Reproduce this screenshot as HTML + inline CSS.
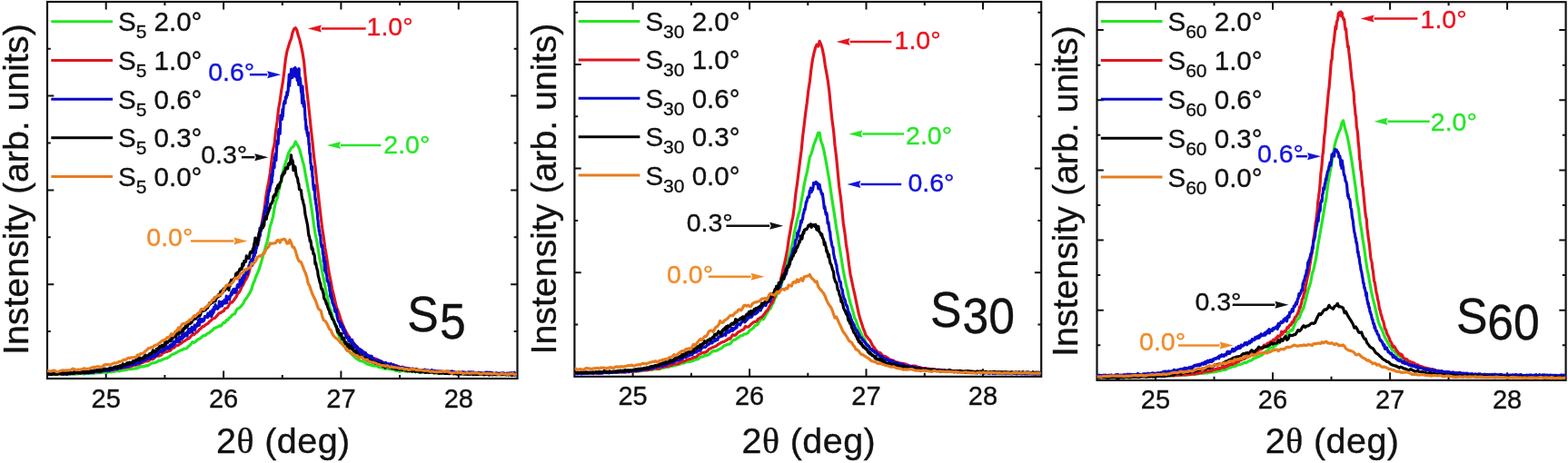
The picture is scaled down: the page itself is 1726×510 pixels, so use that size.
<!DOCTYPE html><html><head><meta charset="utf-8"><title>XRD</title><style>html,body{margin:0;padding:0;background:#fff}svg{display:block}text{font-family:"Liberation Sans", Arial, sans-serif;stroke-width:0.35px}</style></head><body>
<svg width="1726" height="510" viewBox="0 0 1726 510">
<rect width="1726" height="510" fill="#fff"/>
<rect x="52.0" y="2.0" width="517.5" height="415.0" fill="none" stroke="#111" stroke-width="2.2"/>
<path d="M116.7,417.0v-8.5M116.7,2.0v8.5M181.4,417.0v-4M181.4,2.0v4M246.1,417.0v-8.5M246.1,2.0v8.5M310.8,417.0v-4M310.8,2.0v4M375.4,417.0v-8.5M375.4,2.0v8.5M440.1,417.0v-4M440.1,2.0v4M504.8,417.0v-8.5M504.8,2.0v8.5M52.0,365.1h3.8M569.5,365.1h-3.8M52.0,313.2h7.3M569.5,313.2h-7.3M52.0,261.3h3.8M569.5,261.3h-3.8M52.0,209.4h7.3M569.5,209.4h-7.3M52.0,157.5h3.8M569.5,157.5h-3.8M52.0,105.6h7.3M569.5,105.6h-7.3M52.0,53.7h3.8M569.5,53.7h-3.8" stroke="#111" stroke-width="2" fill="none"/>
<clipPath id="c1"><rect x="52.0" y="2.0" width="517.5" height="418.0"/></clipPath>
<g clip-path="url(#c1)">
<polyline points="52.0,412.1 53.6,412.0 55.1,412.1 56.7,412.3 58.2,412.2 59.8,412.2 61.3,411.9 62.9,411.7 64.4,412.0 66.0,412.1 67.5,411.8 69.1,411.8 70.6,411.8 72.2,412.0 73.7,411.8 75.3,411.7 76.8,412.0 78.4,412.0 79.9,412.2 81.5,412.1 83.1,412.1 84.6,411.8 86.2,411.8 87.7,411.5 89.3,411.4 90.8,411.6 92.4,412.0 93.9,411.6 95.5,411.3 97.0,411.2 98.6,411.5 100.1,411.3 101.7,411.3 103.2,411.1 104.8,410.6 106.3,410.9 107.9,410.7 109.4,410.4 111.0,410.6 112.5,410.4 114.1,410.2 115.7,410.2 117.2,410.4 118.8,409.9 120.3,409.5 121.9,409.9 123.4,409.3 125.0,409.3 126.5,409.2 128.1,408.4 129.6,408.5 131.2,408.9 132.7,408.4 134.3,408.0 135.8,408.0 137.4,407.6 138.9,407.4 140.5,406.9 142.0,406.5 143.6,406.8 145.2,406.4 146.7,406.2 148.3,405.9 149.8,405.9 151.4,405.4 152.9,404.8 154.5,403.9 156.0,403.6 157.6,404.0 159.1,403.5 160.7,402.6 162.2,403.0 163.8,402.1 165.3,401.2 166.9,400.1 168.4,399.8 170.0,399.7 171.5,399.3 173.1,398.5 174.6,397.2 176.2,397.3 177.8,396.7 179.3,395.8 180.9,395.3 182.4,394.8 184.0,394.4 185.5,393.3 187.1,392.4 188.6,390.9 190.2,390.3 191.7,389.8 193.3,388.8 194.8,388.3 196.4,386.9 197.9,386.4 199.5,385.5 201.0,385.4 202.6,384.0 204.1,384.2 205.7,383.5 207.3,381.6 208.8,380.6 210.4,378.8 211.9,376.7 213.5,377.4 215.0,376.6 216.6,375.0 218.1,373.7 219.7,373.2 221.2,372.1 222.8,370.5 224.3,369.7 225.9,369.6 227.4,368.1 229.0,367.0 230.5,366.6 232.1,364.9 233.6,364.2 235.2,362.0 236.7,361.3 238.3,360.6 239.9,360.0 241.4,358.9 243.0,359.1 244.5,357.4 246.1,355.3 247.6,355.5 249.2,352.7 250.7,352.7 252.3,350.1 253.8,349.4 255.4,347.1 256.9,346.2 258.5,345.8 260.0,342.0 261.6,339.9 263.1,339.5 264.7,338.1 266.2,336.2 267.8,334.3 269.4,330.5 270.9,329.1 272.5,326.5 274.0,324.2 275.6,321.3 277.1,318.0 278.7,312.3 280.2,309.2 281.8,304.5 283.3,301.1 284.9,297.5 286.4,292.5 288.0,287.5 289.5,281.6 291.1,276.3 292.6,270.7 294.2,265.9 295.7,258.5 297.3,249.2 298.8,245.1 300.4,239.1 302.0,230.0 303.5,222.0 305.1,218.5 306.6,210.8 308.2,204.7 309.7,199.2 311.3,189.6 312.8,183.9 314.4,178.7 315.9,174.5 317.5,168.7 319.0,165.9 320.6,162.9 322.1,162.1 323.7,160.2 325.2,156.1 326.8,158.9 328.3,161.0 329.9,165.3 331.5,171.1 333.0,177.0 334.6,182.4 336.1,191.2 337.7,199.6 339.2,207.8 340.8,215.4 342.3,225.4 343.9,236.0 345.4,247.3 347.0,257.5 348.5,264.2 350.1,273.2 351.6,283.4 353.2,291.5 354.7,299.5 356.3,307.4 357.8,315.2 359.4,323.4 360.9,329.1 362.5,337.2 364.1,341.7 365.6,347.1 367.2,351.8 368.7,355.7 370.3,360.6 371.8,366.7 373.4,370.7 374.9,372.5 376.5,376.2 378.0,378.4 379.6,380.6 381.1,384.3 382.7,386.6 384.2,387.1 385.8,388.6 387.3,390.3 388.9,391.7 390.4,393.4 392.0,394.9 393.6,395.4 395.1,396.7 396.7,397.7 398.2,397.7 399.8,398.4 401.3,399.1 402.9,400.3 404.4,400.9 406.0,401.6 407.5,402.0 409.1,402.2 410.6,402.9 412.2,402.9 413.7,403.1 415.3,403.2 416.8,404.5 418.4,404.4 419.9,404.9 421.5,405.4 423.0,406.1 424.6,406.1 426.2,405.9 427.7,406.4 429.3,406.6 430.8,406.9 432.4,406.8 433.9,407.4 435.5,408.3 437.0,408.2 438.6,408.8 440.1,409.3 441.7,408.5 443.2,408.0 444.8,408.5 446.3,409.1 447.9,409.1 449.4,408.7 451.0,409.0 452.5,409.2 454.1,409.3 455.7,409.4 457.2,409.3 458.8,409.4 460.3,409.7 461.9,410.1 463.4,409.9 465.0,410.1 466.5,409.9 468.1,410.4 469.6,410.3 471.2,410.4 472.7,410.6 474.3,410.0 475.8,410.0 477.4,410.6 478.9,410.4 480.5,410.7 482.0,411.4 483.6,410.9 485.1,410.8 486.7,410.9 488.3,411.2 489.8,411.1 491.4,411.0 492.9,410.7 494.5,410.9 496.0,411.0 497.6,410.8 499.1,411.3 500.7,411.5 502.2,411.7 503.8,411.0 505.3,411.0 506.9,411.1 508.4,411.2 510.0,411.4 511.5,411.4 513.1,411.6 514.6,411.6 516.2,411.5 517.8,411.2 519.3,411.4 520.9,411.6 522.4,411.8 524.0,411.8 525.5,411.3 527.1,411.5 528.6,411.7 530.2,411.9 531.7,412.1 533.3,411.8 534.8,411.6 536.4,411.9 537.9,412.0 539.5,411.9 541.0,412.0 542.6,412.3 544.1,412.1 545.7,412.1 547.2,411.9 548.8,412.1 550.4,411.8 551.9,411.7 553.5,412.1 555.0,412.2 556.6,412.1 558.1,412.1 559.7,412.3 561.2,412.0 562.8,411.7 564.3,412.1 565.9,412.3 567.4,412.4 569.0,412.2" fill="none" stroke="#22e622" stroke-width="3.2" stroke-linejoin="round"/>
<polyline points="52.0,412.2 53.6,412.1 55.1,411.7 56.7,411.9 58.2,411.5 59.8,411.3 61.3,411.6 62.9,411.4 64.4,411.2 66.0,411.6 67.5,411.8 69.1,411.8 70.6,411.5 72.2,411.0 73.7,411.1 75.3,411.5 76.8,411.5 78.4,411.4 79.9,411.1 81.5,411.1 83.1,411.0 84.6,410.9 86.2,410.9 87.7,410.8 89.3,410.7 90.8,410.6 92.4,410.3 93.9,409.9 95.5,410.1 97.0,410.3 98.6,410.5 100.1,410.1 101.7,410.5 103.2,410.2 104.8,409.5 106.3,409.3 107.9,409.5 109.4,409.7 111.0,409.3 112.5,409.1 114.1,408.4 115.7,407.8 117.2,408.2 118.8,408.4 120.3,408.3 121.9,407.8 123.4,407.6 125.0,407.6 126.5,407.1 128.1,407.0 129.6,406.1 131.2,405.7 132.7,405.5 134.3,405.6 135.8,405.1 137.4,404.9 138.9,404.7 140.5,404.4 142.0,404.4 143.6,404.0 145.2,402.9 146.7,402.6 148.3,402.0 149.8,401.4 151.4,401.9 152.9,401.2 154.5,400.2 156.0,399.6 157.6,399.2 159.1,398.2 160.7,398.0 162.2,398.0 163.8,397.3 165.3,395.9 166.9,395.5 168.4,395.6 170.0,393.7 171.5,392.9 173.1,392.1 174.6,392.1 176.2,391.6 177.8,390.8 179.3,388.5 180.9,388.5 182.4,387.3 184.0,387.3 185.5,386.5 187.1,386.3 188.6,384.8 190.2,383.2 191.7,383.0 193.3,381.1 194.8,380.4 196.4,380.3 197.9,379.1 199.5,377.9 201.0,376.7 202.6,375.9 204.1,375.0 205.7,373.8 207.3,373.1 208.8,372.1 210.4,370.1 211.9,368.5 213.5,368.6 215.0,366.9 216.6,366.0 218.1,364.8 219.7,362.6 221.2,361.8 222.8,359.7 224.3,359.7 225.9,358.0 227.4,357.2 229.0,356.2 230.5,354.2 232.1,353.1 233.6,351.5 235.2,350.8 236.7,350.3 238.3,348.4 239.9,346.6 241.4,344.8 243.0,344.7 244.5,343.2 246.1,342.7 247.6,339.8 249.2,339.5 250.7,338.6 252.3,335.4 253.8,332.8 255.4,333.1 256.9,331.3 258.5,329.0 260.0,327.0 261.6,323.6 263.1,322.1 264.7,319.4 266.2,315.7 267.8,313.5 269.4,309.7 270.9,307.5 272.5,304.4 274.0,300.3 275.6,292.6 277.1,289.2 278.7,284.0 280.2,278.6 281.8,272.6 283.3,265.8 284.9,257.5 286.4,253.5 288.0,247.1 289.5,238.4 291.1,229.5 292.6,217.6 294.2,207.8 295.7,200.5 297.3,191.0 298.8,178.3 300.4,165.7 302.0,159.3 303.5,144.5 305.1,133.7 306.6,120.0 308.2,111.1 309.7,99.8 311.3,90.6 312.8,78.9 314.4,64.9 315.9,56.6 317.5,51.3 319.0,46.3 320.6,42.4 322.1,35.7 323.7,31.8 325.2,30.7 326.8,33.2 328.3,39.1 329.9,43.8 331.5,50.9 333.0,57.9 334.6,68.3 336.1,84.2 337.7,99.0 339.2,112.1 340.8,127.1 342.3,141.8 343.9,155.7 345.4,171.1 347.0,183.5 348.5,198.1 350.1,211.6 351.6,225.5 353.2,239.1 354.7,251.4 356.3,262.1 357.8,272.9 359.4,282.3 360.9,292.2 362.5,302.2 364.1,309.6 365.6,318.1 367.2,324.6 368.7,331.0 370.3,338.0 371.8,341.8 373.4,346.4 374.9,351.2 376.5,355.5 378.0,359.4 379.6,363.1 381.1,365.8 382.7,368.6 384.2,371.0 385.8,373.9 387.3,375.3 388.9,377.2 390.4,379.3 392.0,381.1 393.6,382.4 395.1,384.7 396.7,385.2 398.2,386.3 399.8,387.5 401.3,388.7 402.9,390.2 404.4,391.0 406.0,391.5 407.5,392.4 409.1,393.6 410.6,395.0 412.2,394.9 413.7,395.2 415.3,396.0 416.8,397.2 418.4,398.4 419.9,398.2 421.5,399.2 423.0,400.6 424.6,400.3 426.2,401.3 427.7,401.8 429.3,401.8 430.8,401.6 432.4,402.4 433.9,402.6 435.5,402.4 437.0,402.9 438.6,403.8 440.1,404.4 441.7,405.1 443.2,405.2 444.8,405.0 446.3,405.3 447.9,405.6 449.4,405.7 451.0,406.4 452.5,406.5 454.1,406.4 455.7,406.6 457.2,406.7 458.8,407.1 460.3,407.5 461.9,407.6 463.4,408.2 465.0,408.5 466.5,408.1 468.1,408.3 469.6,408.5 471.2,409.1 472.7,409.0 474.3,409.1 475.8,409.4 477.4,409.8 478.9,409.4 480.5,409.1 482.0,409.3 483.6,409.7 485.1,409.6 486.7,409.7 488.3,410.5 489.8,410.0 491.4,409.8 492.9,409.8 494.5,409.6 496.0,409.8 497.6,410.1 499.1,410.2 500.7,410.2 502.2,410.6 503.8,410.5 505.3,410.3 506.9,410.1 508.4,410.7 510.0,410.8 511.5,410.7 513.1,410.5 514.6,410.8 516.2,410.7 517.8,411.2 519.3,411.2 520.9,411.1 522.4,410.9 524.0,411.0 525.5,411.6 527.1,411.5 528.6,411.3 530.2,411.6 531.7,411.7 533.3,411.2 534.8,411.3 536.4,411.4 537.9,411.6 539.5,411.3 541.0,411.5 542.6,411.4 544.1,411.8 545.7,411.9 547.2,411.7 548.8,411.8 550.4,411.6 551.9,411.7 553.5,412.0 555.0,411.9 556.6,411.9 558.1,411.7 559.7,412.0 561.2,412.0 562.8,411.6 564.3,411.3 565.9,411.4 567.4,411.9 569.0,412.0" fill="none" stroke="#e0141e" stroke-width="3.2" stroke-linejoin="round"/>
<polyline points="52.0,410.7 52.4,411.5 52.8,411.9 53.2,411.4 53.6,411.2 53.9,411.8 54.3,412.3 54.7,412.1 55.1,411.1 55.5,411.8 55.9,411.5 56.3,411.3 56.7,411.0 57.0,411.5 57.4,411.1 57.8,411.8 58.2,411.5 58.6,411.9 59.0,410.7 59.4,411.3 59.8,411.7 60.2,411.5 60.5,411.4 60.9,410.9 61.3,412.1 61.7,411.8 62.1,411.4 62.5,409.9 62.9,410.7 63.3,411.3 63.6,410.8 64.0,410.1 64.4,411.3 64.8,411.4 65.2,410.5 65.6,410.9 66.0,410.8 66.4,411.4 66.7,410.1 67.1,410.2 67.5,410.8 67.9,410.7 68.3,412.1 68.7,410.7 69.1,411.2 69.5,410.8 69.9,410.7 70.2,411.2 70.6,411.9 71.0,410.8 71.4,411.4 71.8,411.1 72.2,411.3 72.6,411.1 73.0,412.2 73.3,410.3 73.7,410.8 74.1,410.3 74.5,409.8 74.9,410.8 75.3,411.8 75.7,411.3 76.1,411.5 76.5,411.1 76.8,410.7 77.2,411.9 77.6,410.6 78.0,411.6 78.4,410.6 78.8,410.8 79.2,410.9 79.6,410.7 79.9,411.0 80.3,411.0 80.7,411.5 81.1,410.6 81.5,409.6 81.9,409.5 82.3,409.8 82.7,410.1 83.1,410.9 83.4,409.7 83.8,410.5 84.2,410.5 84.6,410.6 85.0,410.4 85.4,410.6 85.8,410.4 86.2,411.0 86.5,410.6 86.9,409.0 87.3,410.3 87.7,410.4 88.1,410.0 88.5,409.8 88.9,410.8 89.3,410.3 89.6,409.6 90.0,410.0 90.4,410.0 90.8,409.2 91.2,410.5 91.6,410.0 92.0,410.3 92.4,409.1 92.8,411.1 93.1,410.3 93.5,410.2 93.9,409.5 94.3,409.5 94.7,409.0 95.1,410.7 95.5,409.3 95.9,409.9 96.2,410.1 96.6,409.4 97.0,410.2 97.4,410.9 97.8,409.8 98.2,410.5 98.6,409.9 99.0,409.3 99.4,409.3 99.7,408.5 100.1,409.5 100.5,410.3 100.9,409.8 101.3,409.9 101.7,410.0 102.1,409.0 102.5,409.6 102.8,410.4 103.2,408.7 103.6,409.2 104.0,408.9 104.4,409.0 104.8,408.6 105.2,408.9 105.6,408.2 105.9,408.6 106.3,408.6 106.7,408.5 107.1,409.7 107.5,408.8 107.9,408.8 108.3,408.5 108.7,409.5 109.1,407.5 109.4,408.4 109.8,409.2 110.2,409.5 110.6,408.6 111.0,408.4 111.4,408.7 111.8,408.2 112.2,408.6 112.5,407.8 112.9,408.6 113.3,408.1 113.7,407.4 114.1,406.3 114.5,408.6 114.9,408.1 115.3,408.3 115.7,407.2 116.0,408.4 116.4,407.9 116.8,407.6 117.2,408.2 117.6,408.1 118.0,407.7 118.4,408.8 118.8,408.3 119.1,407.5 119.5,407.1 119.9,407.2 120.3,408.3 120.7,407.3 121.1,406.4 121.5,406.5 121.9,406.8 122.3,407.3 122.6,406.2 123.0,407.0 123.4,407.4 123.8,407.0 124.2,405.4 124.6,406.2 125.0,405.4 125.4,406.5 125.7,405.4 126.1,406.5 126.5,406.1 126.9,404.1 127.3,405.3 127.7,406.1 128.1,405.7 128.5,405.3 128.8,404.6 129.2,405.8 129.6,406.6 130.0,405.5 130.4,405.2 130.8,405.0 131.2,404.0 131.6,404.7 132.0,404.2 132.3,405.6 132.7,404.0 133.1,403.0 133.5,403.9 133.9,404.2 134.3,404.2 134.7,402.8 135.1,404.9 135.4,404.1 135.8,403.6 136.2,403.3 136.6,404.1 137.0,403.4 137.4,403.8 137.8,403.4 138.2,403.5 138.6,404.2 138.9,403.2 139.3,402.3 139.7,403.7 140.1,403.0 140.5,402.2 140.9,403.5 141.3,402.4 141.7,403.3 142.0,401.3 142.4,400.2 142.8,400.4 143.2,402.1 143.6,401.2 144.0,401.6 144.4,401.5 144.8,400.2 145.2,402.5 145.5,400.3 145.9,401.2 146.3,399.8 146.7,400.7 147.1,401.3 147.5,400.4 147.9,399.8 148.3,400.3 148.6,399.8 149.0,400.6 149.4,401.9 149.8,399.0 150.2,399.1 150.6,399.4 151.0,399.4 151.4,398.3 151.7,399.6 152.1,399.7 152.5,399.0 152.9,397.6 153.3,399.9 153.7,397.3 154.1,398.9 154.5,399.2 154.9,396.8 155.2,397.9 155.6,398.9 156.0,397.9 156.4,396.5 156.8,396.1 157.2,397.5 157.6,396.5 158.0,396.0 158.3,397.2 158.7,396.1 159.1,396.3 159.5,396.6 159.9,396.4 160.3,395.7 160.7,395.5 161.1,396.0 161.5,395.7 161.8,393.9 162.2,394.7 162.6,393.8 163.0,393.3 163.4,393.7 163.8,391.8 164.2,394.8 164.6,393.0 164.9,394.0 165.3,391.5 165.7,391.4 166.1,395.1 166.5,393.9 166.9,392.0 167.3,391.6 167.7,391.5 168.0,392.2 168.4,391.4 168.8,391.0 169.2,391.6 169.6,390.2 170.0,393.6 170.4,390.2 170.8,391.8 171.2,389.4 171.5,390.5 171.9,391.1 172.3,389.4 172.7,390.7 173.1,390.5 173.5,391.0 173.9,389.0 174.3,388.2 174.6,387.4 175.0,388.5 175.4,386.9 175.8,387.9 176.2,387.8 176.6,386.8 177.0,386.0 177.4,387.4 177.8,387.1 178.1,386.7 178.5,386.2 178.9,387.2 179.3,384.6 179.7,386.1 180.1,384.8 180.5,386.1 180.9,384.4 181.2,384.2 181.6,384.9 182.0,381.6 182.4,383.5 182.8,381.4 183.2,382.2 183.6,384.0 184.0,383.4 184.4,382.1 184.7,382.3 185.1,382.1 185.5,382.3 185.9,384.0 186.3,381.7 186.7,384.0 187.1,380.4 187.5,381.6 187.8,381.3 188.2,380.4 188.6,379.5 189.0,381.5 189.4,381.6 189.8,380.4 190.2,381.5 190.6,379.8 190.9,376.0 191.3,379.4 191.7,376.8 192.1,379.3 192.5,376.7 192.9,377.3 193.3,376.6 193.7,375.5 194.1,373.5 194.4,375.4 194.8,375.2 195.2,376.5 195.6,374.0 196.0,374.9 196.4,373.1 196.8,374.0 197.2,371.2 197.5,376.3 197.9,373.5 198.3,371.5 198.7,373.0 199.1,373.4 199.5,372.3 199.9,373.7 200.3,371.1 200.7,367.4 201.0,369.0 201.4,372.1 201.8,371.4 202.2,370.4 202.6,368.0 203.0,370.4 203.4,369.9 203.8,367.3 204.1,367.0 204.5,368.6 204.9,369.4 205.3,369.7 205.7,368.1 206.1,370.2 206.5,365.3 206.9,367.1 207.3,365.0 207.6,362.6 208.0,363.3 208.4,366.7 208.8,363.2 209.2,362.4 209.6,365.1 210.0,365.1 210.4,363.4 210.7,365.5 211.1,360.3 211.5,366.2 211.9,363.8 212.3,362.1 212.7,361.7 213.1,360.7 213.5,360.2 213.8,360.7 214.2,358.2 214.6,363.3 215.0,359.4 215.4,360.3 215.8,358.5 216.2,358.0 216.6,359.6 217.0,358.8 217.3,356.1 217.7,356.5 218.1,357.9 218.5,353.0 218.9,352.2 219.3,358.3 219.7,354.9 220.1,350.8 220.4,353.4 220.8,354.1 221.2,354.5 221.6,354.7 222.0,353.8 222.4,354.1 222.8,351.5 223.2,353.2 223.6,352.9 223.9,353.9 224.3,351.5 224.7,352.7 225.1,351.1 225.5,348.6 225.9,349.5 226.3,348.9 226.7,348.8 227.0,349.0 227.4,349.0 227.8,349.0 228.2,346.7 228.6,349.7 229.0,345.0 229.4,347.0 229.8,348.1 230.1,347.3 230.5,347.3 230.9,345.5 231.3,346.7 231.7,343.0 232.1,346.2 232.5,348.6 232.9,345.4 233.3,347.5 233.6,343.5 234.0,341.1 234.4,341.5 234.8,344.9 235.2,343.5 235.6,338.3 236.0,340.8 236.4,341.0 236.7,338.7 237.1,335.6 237.5,337.5 237.9,339.4 238.3,338.6 238.7,337.8 239.1,339.8 239.5,340.3 239.9,337.8 240.2,339.4 240.6,337.4 241.0,336.7 241.4,332.0 241.8,337.9 242.2,336.1 242.6,335.9 243.0,334.3 243.3,332.8 243.7,335.5 244.1,335.8 244.5,337.0 244.9,335.3 245.3,332.0 245.7,332.6 246.1,334.4 246.5,332.8 246.8,331.6 247.2,330.3 247.6,332.1 248.0,331.1 248.4,333.9 248.8,332.2 249.2,326.2 249.6,333.6 249.9,329.4 250.3,327.9 250.7,328.7 251.1,329.3 251.5,327.3 251.9,326.8 252.3,326.6 252.7,330.0 253.0,326.0 253.4,327.0 253.8,326.0 254.2,324.0 254.6,322.7 255.0,321.7 255.4,324.3 255.8,320.8 256.2,319.9 256.5,319.5 256.9,318.6 257.3,321.4 257.7,321.0 258.1,318.4 258.5,322.7 258.9,318.9 259.3,320.0 259.6,319.2 260.0,321.7 260.4,319.4 260.8,317.0 261.2,314.5 261.6,313.8 262.0,315.6 262.4,315.4 262.8,316.3 263.1,313.0 263.5,313.9 263.9,311.5 264.3,308.3 264.7,311.8 265.1,314.5 265.5,312.5 265.9,313.3 266.2,312.1 266.6,305.8 267.0,307.6 267.4,311.0 267.8,305.4 268.2,303.3 268.6,306.4 269.0,306.5 269.4,305.0 269.7,302.8 270.1,301.3 270.5,299.3 270.9,298.5 271.3,297.8 271.7,296.6 272.1,297.5 272.5,301.9 272.8,297.8 273.2,295.9 273.6,296.7 274.0,292.7 274.4,294.9 274.8,295.4 275.2,288.8 275.6,289.7 275.9,289.9 276.3,287.2 276.7,285.9 277.1,286.7 277.5,292.6 277.9,287.2 278.3,285.6 278.7,285.9 279.1,281.8 279.4,278.2 279.8,281.3 280.2,281.8 280.6,272.5 281.0,277.7 281.4,278.6 281.8,273.5 282.2,271.8 282.5,273.5 282.9,268.2 283.3,270.3 283.7,270.1 284.1,265.8 284.5,262.9 284.9,265.2 285.3,261.2 285.7,260.9 286.0,251.4 286.4,259.6 286.8,252.3 287.2,254.8 287.6,253.4 288.0,249.4 288.4,247.3 288.8,244.6 289.1,245.6 289.5,246.6 289.9,244.7 290.3,239.9 290.7,238.0 291.1,233.8 291.5,234.8 291.9,231.1 292.2,227.9 292.6,230.0 293.0,233.1 293.4,230.2 293.8,229.1 294.2,217.9 294.6,223.4 295.0,215.0 295.4,214.9 295.7,209.4 296.1,209.5 296.5,210.9 296.9,209.0 297.3,206.0 297.7,203.6 298.1,203.7 298.5,199.9 298.8,192.4 299.2,200.9 299.6,192.3 300.0,193.9 300.4,188.0 300.8,183.5 301.2,184.2 301.6,179.1 302.0,184.8 302.3,173.3 302.7,176.8 303.1,170.3 303.5,169.4 303.9,176.6 304.3,167.9 304.7,162.2 305.1,155.2 305.4,157.2 305.8,154.9 306.2,158.5 306.6,146.0 307.0,142.3 307.4,146.3 307.8,144.8 308.2,147.5 308.6,136.1 308.9,127.1 309.3,132.1 309.7,127.8 310.1,128.1 310.5,131.5 310.9,120.7 311.3,128.1 311.7,122.0 312.0,118.0 312.4,113.6 312.8,113.3 313.2,111.3 313.6,113.7 314.0,113.7 314.4,106.6 314.8,107.7 315.1,108.1 315.5,106.1 315.9,101.4 316.3,105.0 316.7,101.4 317.1,100.9 317.5,92.2 317.9,89.8 318.3,82.1 318.6,94.6 319.0,90.1 319.4,82.5 319.8,85.8 320.2,85.2 320.6,76.1 321.0,83.3 321.4,85.7 321.7,85.6 322.1,78.3 322.5,77.8 322.9,84.0 323.3,82.0 323.7,75.5 324.1,75.1 324.5,79.8 324.9,74.6 325.2,74.8 325.6,84.4 326.0,79.0 326.4,76.7 326.8,81.4 327.2,88.5 327.6,82.0 328.0,79.0 328.3,76.9 328.7,93.3 329.1,75.6 329.5,92.0 329.9,85.4 330.3,86.1 330.7,89.0 331.1,94.3 331.5,101.4 331.8,96.6 332.2,104.1 332.6,113.4 333.0,95.2 333.4,105.8 333.8,104.2 334.2,117.2 334.6,110.9 334.9,113.3 335.3,116.2 335.7,125.0 336.1,132.4 336.5,131.5 336.9,142.0 337.3,143.2 337.7,139.7 338.0,146.8 338.4,147.0 338.8,150.0 339.2,145.9 339.6,151.5 340.0,159.4 340.4,158.3 340.8,168.5 341.2,170.3 341.5,169.3 341.9,179.9 342.3,180.0 342.7,186.7 343.1,185.2 343.5,183.5 343.9,194.6 344.3,194.7 344.6,201.6 345.0,205.6 345.4,209.1 345.8,203.8 346.2,204.2 346.6,213.2 347.0,220.1 347.4,218.8 347.8,225.1 348.1,224.8 348.5,229.3 348.9,232.4 349.3,234.4 349.7,240.9 350.1,243.3 350.5,249.9 350.9,249.1 351.2,254.7 351.6,253.9 352.0,258.9 352.4,258.7 352.8,260.5 353.2,268.2 353.6,269.2 354.0,272.1 354.3,270.2 354.7,270.2 355.1,274.9 355.5,280.5 355.9,278.3 356.3,288.2 356.7,282.9 357.1,290.6 357.5,298.0 357.8,287.0 358.2,291.8 358.6,300.2 359.0,299.5 359.4,302.4 359.8,303.7 360.2,309.4 360.6,309.5 360.9,308.8 361.3,311.2 361.7,310.9 362.1,315.2 362.5,312.0 362.9,320.4 363.3,320.0 363.7,326.3 364.1,326.5 364.4,322.7 364.8,329.0 365.2,327.5 365.6,330.2 366.0,333.7 366.4,333.7 366.8,335.5 367.2,336.8 367.5,335.7 367.9,337.3 368.3,340.9 368.7,342.8 369.1,341.8 369.5,343.7 369.9,342.8 370.3,341.0 370.7,345.5 371.0,348.2 371.4,349.5 371.8,351.8 372.2,352.9 372.6,354.1 373.0,354.0 373.4,355.0 373.8,353.9 374.1,356.8 374.5,357.4 374.9,360.0 375.3,356.1 375.7,358.8 376.1,357.5 376.5,360.0 376.9,359.6 377.2,363.2 377.6,362.4 378.0,360.0 378.4,367.0 378.8,363.9 379.2,363.8 379.6,366.5 380.0,366.6 380.4,366.5 380.7,370.1 381.1,369.0 381.5,371.6 381.9,371.9 382.3,372.4 382.7,372.2 383.1,372.4 383.5,372.5 383.8,375.7 384.2,371.3 384.6,373.0 385.0,374.2 385.4,376.2 385.8,376.3 386.2,375.9 386.6,376.5 387.0,379.9 387.3,377.0 387.7,374.4 388.1,381.5 388.5,378.0 388.9,379.2 389.3,380.3 389.7,378.7 390.1,382.5 390.4,381.1 390.8,379.8 391.2,382.4 391.6,383.0 392.0,382.7 392.4,383.8 392.8,381.5 393.2,385.0 393.6,383.1 393.9,386.1 394.3,384.0 394.7,385.3 395.1,388.8 395.5,385.8 395.9,387.5 396.3,387.0 396.7,384.8 397.0,388.4 397.4,388.6 397.8,385.9 398.2,387.8 398.6,386.3 399.0,388.1 399.4,389.8 399.8,389.1 400.1,387.8 400.5,388.4 400.9,389.8 401.3,390.0 401.7,390.4 402.1,391.2 402.5,388.6 402.9,391.0 403.3,392.5 403.6,392.0 404.0,390.9 404.4,391.2 404.8,392.3 405.2,393.1 405.6,392.6 406.0,394.7 406.4,394.5 406.7,392.4 407.1,394.0 407.5,393.3 407.9,392.6 408.3,393.4 408.7,394.3 409.1,392.2 409.5,394.0 409.9,395.2 410.2,394.3 410.6,394.8 411.0,396.3 411.4,395.5 411.8,396.0 412.2,398.0 412.6,396.3 413.0,396.6 413.3,397.0 413.7,398.3 414.1,397.2 414.5,397.1 414.9,397.1 415.3,398.5 415.7,396.9 416.1,398.9 416.4,398.0 416.8,396.7 417.2,398.8 417.6,398.8 418.0,397.4 418.4,399.0 418.8,399.0 419.2,398.7 419.6,398.0 419.9,401.3 420.3,400.1 420.7,400.4 421.1,400.6 421.5,400.5 421.9,400.6 422.3,399.7 422.7,400.9 423.0,400.1 423.4,400.0 423.8,401.2 424.2,400.5 424.6,399.3 425.0,400.6 425.4,401.6 425.8,401.2 426.2,402.0 426.5,401.1 426.9,400.7 427.3,402.3 427.7,401.9 428.1,400.8 428.5,402.3 428.9,401.9 429.3,403.0 429.6,402.9 430.0,402.8 430.4,400.6 430.8,402.9 431.2,403.1 431.6,403.2 432.0,403.0 432.4,402.4 432.8,402.9 433.1,401.5 433.5,403.1 433.9,402.2 434.3,403.2 434.7,403.0 435.1,404.8 435.5,403.8 435.9,403.8 436.2,404.1 436.6,405.7 437.0,403.4 437.4,404.4 437.8,404.6 438.2,404.5 438.6,404.6 439.0,404.2 439.3,405.5 439.7,405.3 440.1,404.5 440.5,404.7 440.9,405.1 441.3,405.4 441.7,405.6 442.1,405.1 442.5,404.3 442.8,406.0 443.2,404.2 443.6,404.7 444.0,405.8 444.4,404.9 444.8,406.7 445.2,406.9 445.6,406.6 445.9,406.1 446.3,406.1 446.7,406.3 447.1,405.9 447.5,407.6 447.9,405.7 448.3,407.2 448.7,406.7 449.1,406.6 449.4,407.1 449.8,407.4 450.2,407.2 450.6,406.5 451.0,406.1 451.4,406.2 451.8,407.4 452.2,407.3 452.5,407.4 452.9,406.5 453.3,408.3 453.7,406.1 454.1,407.3 454.5,407.6 454.9,406.8 455.3,406.4 455.7,406.9 456.0,406.5 456.4,407.2 456.8,406.5 457.2,406.5 457.6,407.5 458.0,406.5 458.4,407.4 458.8,407.5 459.1,408.2 459.5,407.8 459.9,407.2 460.3,408.6 460.7,407.3 461.1,407.6 461.5,407.7 461.9,409.3 462.2,408.0 462.6,407.5 463.0,408.5 463.4,408.0 463.8,409.6 464.2,407.7 464.6,408.6 465.0,407.6 465.4,409.4 465.7,407.8 466.1,408.5 466.5,407.8 466.9,409.0 467.3,408.8 467.7,407.0 468.1,409.0 468.5,409.0 468.8,408.7 469.2,409.2 469.6,407.9 470.0,407.6 470.4,409.1 470.8,409.8 471.2,408.0 471.6,408.1 472.0,408.3 472.3,408.1 472.7,409.4 473.1,409.0 473.5,409.8 473.9,409.8 474.3,408.4 474.7,409.4 475.1,407.6 475.4,409.0 475.8,409.5 476.2,408.6 476.6,408.0 477.0,408.9 477.4,409.9 477.8,409.0 478.2,408.4 478.5,409.6 478.9,409.8 479.3,408.7 479.7,409.3 480.1,410.0 480.5,409.6 480.9,409.9 481.3,409.3 481.7,409.4 482.0,408.8 482.4,409.1 482.8,410.5 483.2,409.3 483.6,409.0 484.0,409.3 484.4,409.0 484.8,410.0 485.1,410.2 485.5,409.1 485.9,410.3 486.3,411.0 486.7,409.1 487.1,410.2 487.5,410.0 487.9,410.6 488.3,410.6 488.6,410.5 489.0,410.1 489.4,409.7 489.8,411.2 490.2,409.5 490.6,410.6 491.0,410.6 491.4,409.6 491.7,410.0 492.1,410.9 492.5,409.0 492.9,410.5 493.3,409.9 493.7,410.0 494.1,409.3 494.5,410.4 494.9,409.5 495.2,410.6 495.6,409.5 496.0,410.6 496.4,410.4 496.8,409.1 497.2,410.0 497.6,410.2 498.0,409.0 498.3,410.1 498.7,410.7 499.1,409.9 499.5,411.0 499.9,409.7 500.3,409.7 500.7,410.7 501.1,410.7 501.4,410.3 501.8,410.4 502.2,411.0 502.6,410.1 503.0,411.6 503.4,410.7 503.8,410.7 504.2,410.6 504.6,410.3 504.9,411.2 505.3,410.2 505.7,410.6 506.1,410.9 506.5,411.3 506.9,411.2 507.3,410.4 507.7,411.1 508.0,410.6 508.4,410.0 508.8,410.1 509.2,409.8 509.6,410.8 510.0,411.3 510.4,410.1 510.8,410.5 511.2,410.1 511.5,410.7 511.9,410.1 512.3,410.3 512.7,410.3 513.1,410.5 513.5,410.5 513.9,410.6 514.3,410.7 514.6,410.3 515.0,411.1 515.4,409.9 515.8,410.9 516.2,410.3 516.6,410.9 517.0,411.0 517.4,409.8 517.8,411.0 518.1,411.6 518.5,411.3 518.9,411.1 519.3,409.8 519.7,410.8 520.1,410.4 520.5,411.5 520.9,410.8 521.2,410.6 521.6,410.0 522.0,411.3 522.4,410.7 522.8,410.8 523.2,411.5 523.6,411.0 524.0,411.2 524.3,412.3 524.7,410.7 525.1,410.8 525.5,411.3 525.9,411.8 526.3,410.3 526.7,410.9 527.1,410.5 527.5,410.3 527.8,411.4 528.2,410.7 528.6,411.2 529.0,411.2 529.4,411.2 529.8,411.1 530.2,410.6 530.6,411.1 530.9,411.2 531.3,411.3 531.7,411.0 532.1,411.7 532.5,411.5 532.9,411.2 533.3,411.5 533.7,411.3 534.1,411.5 534.4,410.2 534.8,410.5 535.2,411.0 535.6,411.3 536.0,410.1 536.4,411.1 536.8,411.3 537.2,411.1 537.5,411.1 537.9,410.6 538.3,411.3 538.7,410.2 539.1,411.8 539.5,411.0 539.9,411.8 540.3,410.4 540.6,411.5 541.0,411.4 541.4,410.9 541.8,410.7 542.2,411.9 542.6,411.6 543.0,412.1 543.4,411.3 543.8,411.4 544.1,411.6 544.5,411.8 544.9,411.6 545.3,411.8 545.7,411.2 546.1,410.6 546.5,412.4 546.9,411.5 547.2,411.7 547.6,411.2 548.0,411.9 548.4,411.5 548.8,412.0 549.2,411.1 549.6,411.4 550.0,411.6 550.4,411.3 550.7,411.6 551.1,412.3 551.5,411.2 551.9,411.4 552.3,411.6 552.7,411.0 553.1,410.9 553.5,412.1 553.8,411.9 554.2,410.8 554.6,410.8 555.0,411.9 555.4,412.2 555.8,411.9 556.2,411.8 556.6,412.4 557.0,411.6 557.3,412.2 557.7,412.2 558.1,411.1 558.5,411.9 558.9,411.6 559.3,411.3 559.7,411.2 560.1,411.8 560.4,411.6 560.8,412.0 561.2,410.8 561.6,411.3 562.0,412.2 562.4,411.7 562.8,411.3 563.2,411.4 563.5,410.7 563.9,411.0 564.3,411.9 564.7,411.7 565.1,412.3 565.5,411.6 565.9,411.6 566.3,410.3 566.7,411.7 567.0,412.8 567.4,412.0 567.8,411.7 568.2,412.3 568.6,412.2 569.0,411.9 569.4,411.6" fill="none" stroke="#0a0acd" stroke-width="3.2" stroke-linejoin="round"/>
<polyline points="52.0,412.1 52.6,412.3 53.3,411.7 53.9,412.2 54.6,412.1 55.2,412.4 55.9,412.2 56.5,411.6 57.2,412.5 57.8,411.9 58.5,411.6 59.1,412.0 59.8,411.7 60.4,412.2 61.1,411.2 61.7,411.3 62.3,411.6 63.0,412.4 63.6,412.1 64.3,411.3 64.9,411.0 65.6,411.5 66.2,411.1 66.9,411.8 67.5,411.6 68.2,411.5 68.8,411.3 69.5,412.0 70.1,411.0 70.8,410.9 71.4,411.8 72.1,411.9 72.7,411.2 73.3,411.5 74.0,412.2 74.6,410.9 75.3,411.1 75.9,411.3 76.6,410.3 77.2,411.0 77.9,411.3 78.5,411.0 79.2,411.4 79.8,411.2 80.5,410.7 81.1,411.1 81.8,411.0 82.4,410.1 83.0,410.4 83.7,410.4 84.3,410.4 85.0,410.4 85.6,409.9 86.3,410.5 86.9,409.7 87.6,410.8 88.2,410.5 88.9,410.9 89.5,410.4 90.2,410.0 90.8,409.5 91.5,410.4 92.1,410.1 92.8,410.2 93.4,410.3 94.0,410.4 94.7,409.8 95.3,410.6 96.0,409.7 96.6,409.6 97.3,409.9 97.9,410.0 98.6,410.1 99.2,408.5 99.9,409.9 100.5,408.5 101.2,408.9 101.8,409.3 102.5,409.6 103.1,408.5 103.7,408.0 104.4,409.2 105.0,408.8 105.7,408.1 106.3,408.4 107.0,407.5 107.6,408.6 108.3,408.0 108.9,408.8 109.6,407.0 110.2,408.4 110.9,409.0 111.5,407.9 112.2,407.8 112.8,406.6 113.5,407.7 114.1,407.4 114.7,406.9 115.4,406.3 116.0,407.1 116.7,406.4 117.3,406.5 118.0,406.8 118.6,406.5 119.3,406.4 119.9,406.8 120.6,405.5 121.2,406.8 121.9,405.2 122.5,405.2 123.2,405.7 123.8,405.9 124.4,405.5 125.1,404.9 125.7,404.6 126.4,404.7 127.0,404.1 127.7,404.9 128.3,404.3 129.0,405.2 129.6,403.6 130.3,403.8 130.9,404.0 131.6,402.8 132.2,402.9 132.9,404.9 133.5,403.0 134.2,403.7 134.8,401.9 135.4,400.8 136.1,402.5 136.7,402.0 137.4,402.0 138.0,401.4 138.7,401.0 139.3,400.3 140.0,401.6 140.6,399.7 141.3,401.1 141.9,400.1 142.6,399.2 143.2,399.3 143.9,400.2 144.5,399.8 145.1,399.4 145.8,398.8 146.4,397.7 147.1,399.2 147.7,397.7 148.4,397.3 149.0,397.1 149.7,396.9 150.3,395.8 151.0,396.3 151.6,395.7 152.3,395.7 152.9,394.4 153.6,397.0 154.2,394.2 154.9,395.1 155.5,394.8 156.1,395.0 156.8,395.4 157.4,393.9 158.1,393.9 158.7,392.6 159.4,393.8 160.0,391.1 160.7,391.7 161.3,391.8 162.0,391.9 162.6,391.6 163.3,391.5 163.9,390.6 164.6,389.8 165.2,389.6 165.8,390.3 166.5,388.9 167.1,389.1 167.8,387.8 168.4,385.8 169.1,386.6 169.7,387.0 170.4,387.8 171.0,387.2 171.7,387.1 172.3,384.4 173.0,385.4 173.6,384.2 174.3,384.4 174.9,383.3 175.6,381.6 176.2,383.2 176.8,382.4 177.5,382.4 178.1,380.3 178.8,381.7 179.4,381.4 180.1,381.2 180.7,380.8 181.4,378.3 182.0,375.7 182.7,378.9 183.3,376.4 184.0,376.6 184.6,377.6 185.3,376.2 185.9,375.7 186.5,375.7 187.2,372.3 187.8,376.0 188.5,373.0 189.1,372.5 189.8,373.0 190.4,371.7 191.1,370.3 191.7,370.6 192.4,369.8 193.0,369.0 193.7,371.6 194.3,367.0 195.0,365.5 195.6,366.4 196.3,365.9 196.9,368.2 197.5,366.1 198.2,366.4 198.8,365.6 199.5,363.1 200.1,364.7 200.8,363.3 201.4,365.0 202.1,362.2 202.7,361.3 203.4,361.8 204.0,361.2 204.7,357.4 205.3,360.7 206.0,359.9 206.6,359.0 207.2,355.9 207.9,354.1 208.5,355.8 209.2,356.6 209.8,355.6 210.5,353.1 211.1,355.1 211.8,351.4 212.4,350.8 213.1,352.0 213.7,350.6 214.4,349.9 215.0,348.2 215.7,351.2 216.3,347.5 217.0,349.0 217.6,349.0 218.2,347.1 218.9,347.0 219.5,347.5 220.2,347.7 220.8,346.2 221.5,342.2 222.1,340.8 222.8,342.1 223.4,340.7 224.1,342.5 224.7,341.3 225.4,340.1 226.0,341.5 226.7,340.8 227.3,338.6 227.9,338.6 228.6,339.0 229.2,336.3 229.9,336.6 230.5,334.0 231.2,335.0 231.8,334.8 232.5,333.5 233.1,333.3 233.8,333.5 234.4,332.4 235.1,330.0 235.7,329.5 236.4,327.9 237.0,331.9 237.7,329.2 238.3,328.6 238.9,327.0 239.6,327.3 240.2,326.8 240.9,324.1 241.5,324.4 242.2,325.9 242.8,321.1 243.5,321.0 244.1,322.9 244.8,319.9 245.4,321.8 246.1,318.0 246.7,319.5 247.4,319.8 248.0,318.4 248.6,318.3 249.3,316.0 249.9,315.3 250.6,314.8 251.2,315.1 251.9,319.6 252.5,312.5 253.2,315.1 253.8,310.7 254.5,308.4 255.1,309.1 255.8,309.4 256.4,308.3 257.1,307.4 257.7,307.3 258.4,306.5 259.0,306.3 259.6,301.7 260.3,303.0 260.9,300.3 261.6,301.6 262.2,300.1 262.9,299.7 263.5,297.6 264.2,296.0 264.8,296.1 265.5,296.9 266.1,296.1 266.8,290.6 267.4,293.2 268.1,292.2 268.7,287.8 269.3,287.5 270.0,287.5 270.6,288.2 271.3,281.8 271.9,284.5 272.6,283.0 273.2,283.3 273.9,284.5 274.5,283.2 275.2,278.6 275.8,277.4 276.5,277.4 277.1,278.0 277.8,277.3 278.4,273.8 279.1,274.8 279.7,268.7 280.3,266.9 281.0,262.1 281.6,264.7 282.3,266.3 282.9,265.5 283.6,269.4 284.2,262.0 284.9,259.7 285.5,255.8 286.2,255.0 286.8,253.6 287.5,252.8 288.1,250.3 288.8,247.0 289.4,250.9 290.0,248.0 290.7,248.4 291.3,240.1 292.0,239.2 292.6,238.7 293.3,241.4 293.9,236.7 294.6,235.9 295.2,233.5 295.9,232.4 296.5,229.1 297.2,229.4 297.8,224.8 298.5,224.5 299.1,224.0 299.8,221.9 300.4,220.9 301.0,216.2 301.7,217.1 302.3,214.0 303.0,214.0 303.6,214.9 304.3,207.5 304.9,210.6 305.6,204.7 306.2,203.7 306.9,207.2 307.5,203.9 308.2,201.3 308.8,200.5 309.5,199.9 310.1,193.6 310.7,194.7 311.4,191.7 312.0,192.4 312.7,189.2 313.3,190.6 314.0,187.5 314.6,184.8 315.3,185.0 315.9,185.1 316.6,185.7 317.2,181.4 317.9,180.0 318.5,180.6 319.2,181.0 319.8,176.7 320.5,170.8 321.1,177.2 321.7,176.4 322.4,178.1 323.0,187.6 323.7,182.7 324.3,187.0 325.0,183.9 325.6,190.3 326.3,194.0 326.9,195.1 327.6,196.7 328.2,201.2 328.9,202.6 329.5,208.6 330.2,208.7 330.8,209.2 331.4,209.4 332.1,215.4 332.7,219.5 333.4,220.5 334.0,224.1 334.7,225.8 335.3,230.3 336.0,236.3 336.6,238.7 337.3,242.1 337.9,245.0 338.6,248.5 339.2,253.8 339.9,259.8 340.5,259.9 341.2,265.8 341.8,264.6 342.4,267.8 343.1,274.3 343.7,272.6 344.4,275.2 345.0,279.7 345.7,279.6 346.3,282.1 347.0,290.9 347.6,289.4 348.3,293.3 348.9,296.1 349.6,297.9 350.2,303.5 350.9,305.8 351.5,308.7 352.1,311.1 352.8,312.4 353.4,317.0 354.1,318.7 354.7,318.3 355.4,321.6 356.0,323.0 356.7,328.8 357.3,329.1 358.0,330.8 358.6,331.9 359.3,334.8 359.9,334.4 360.6,337.8 361.2,339.5 361.9,341.3 362.5,342.0 363.1,345.4 363.8,344.8 364.4,347.4 365.1,349.4 365.7,351.1 366.4,351.9 367.0,352.7 367.7,354.2 368.3,356.4 369.0,357.1 369.6,359.4 370.3,359.2 370.9,362.0 371.6,365.8 372.2,362.8 372.8,365.4 373.5,368.0 374.1,367.9 374.8,369.8 375.4,367.4 376.1,370.2 376.7,373.5 377.4,372.1 378.0,374.0 378.7,372.4 379.3,376.5 380.0,378.6 380.6,376.9 381.3,378.2 381.9,379.0 382.6,381.5 383.2,379.6 383.8,379.1 384.5,383.4 385.1,381.0 385.8,383.4 386.4,381.2 387.1,383.7 387.7,384.9 388.4,384.2 389.0,385.4 389.7,387.0 390.3,386.3 391.0,388.0 391.6,389.6 392.3,386.7 392.9,389.3 393.5,390.0 394.2,389.7 394.8,391.8 395.5,392.0 396.1,391.7 396.8,392.2 397.4,392.1 398.1,391.6 398.7,393.4 399.4,393.0 400.0,393.2 400.7,395.0 401.3,394.3 402.0,395.6 402.6,394.3 403.3,395.2 403.9,395.8 404.5,397.2 405.2,396.4 405.8,397.4 406.5,396.6 407.1,397.5 407.8,398.3 408.4,397.3 409.1,397.7 409.7,398.9 410.4,397.9 411.0,399.2 411.7,399.5 412.3,399.4 413.0,400.3 413.6,400.3 414.2,400.4 414.9,399.4 415.5,399.7 416.2,401.1 416.8,400.1 417.5,401.4 418.1,401.3 418.8,401.2 419.4,401.8 420.1,400.6 420.7,402.2 421.4,403.3 422.0,401.9 422.7,403.2 423.3,403.3 424.0,405.1 424.6,402.8 425.2,403.1 425.9,403.3 426.5,403.3 427.2,403.0 427.8,404.2 428.5,403.8 429.1,405.0 429.8,404.9 430.4,404.2 431.1,404.7 431.7,405.8 432.4,405.0 433.0,405.4 433.7,405.9 434.3,405.4 434.9,405.9 435.6,406.7 436.2,406.6 436.9,405.1 437.5,407.0 438.2,406.2 438.8,406.1 439.5,406.2 440.1,407.3 440.8,406.9 441.4,406.8 442.1,406.5 442.7,407.4 443.4,407.7 444.0,406.7 444.7,406.7 445.3,407.2 445.9,407.8 446.6,407.4 447.2,407.6 447.9,407.3 448.5,408.5 449.2,407.9 449.8,408.1 450.5,408.6 451.1,408.0 451.8,408.2 452.4,408.5 453.1,408.2 453.7,409.1 454.4,408.5 455.0,408.4 455.6,408.5 456.3,408.2 456.9,409.4 457.6,409.6 458.2,408.8 458.9,408.7 459.5,408.0 460.2,408.8 460.8,409.6 461.5,408.8 462.1,409.6 462.8,410.0 463.4,408.2 464.1,409.3 464.7,409.1 465.4,409.3 466.0,408.8 466.6,409.5 467.3,409.1 467.9,410.2 468.6,410.4 469.2,409.2 469.9,409.2 470.5,409.7 471.2,409.9 471.8,409.9 472.5,410.3 473.1,409.4 473.8,409.8 474.4,409.9 475.1,410.0 475.7,409.8 476.3,410.1 477.0,410.0 477.6,410.9 478.3,410.2 478.9,409.5 479.6,410.7 480.2,410.6 480.9,410.2 481.5,410.2 482.2,410.3 482.8,411.3 483.5,410.5 484.1,411.2 484.8,411.1 485.4,410.5 486.1,410.9 486.7,410.5 487.3,409.6 488.0,410.6 488.6,410.6 489.3,411.3 489.9,411.2 490.6,411.4 491.2,411.3 491.9,411.5 492.5,411.4 493.2,411.2 493.8,411.5 494.5,411.7 495.1,411.7 495.8,411.0 496.4,411.2 497.0,410.9 497.7,410.9 498.3,411.5 499.0,411.1 499.6,411.9 500.3,410.5 500.9,410.9 501.6,411.5 502.2,411.9 502.9,411.3 503.5,412.2 504.2,411.8 504.8,411.2 505.5,411.5 506.1,411.8 506.8,411.2 507.4,412.0 508.0,411.5 508.7,411.9 509.3,412.0 510.0,411.5 510.6,412.1 511.3,411.0 511.9,412.0 512.6,411.0 513.2,412.2 513.9,411.6 514.5,412.3 515.2,412.4 515.8,411.8 516.5,411.6 517.1,412.4 517.7,411.5 518.4,412.2 519.0,411.9 519.7,411.8 520.3,411.8 521.0,412.7 521.6,411.4 522.3,411.8 522.9,412.2 523.6,412.4 524.2,412.7 524.9,412.6 525.5,411.9 526.2,412.2 526.8,412.5 527.5,412.3 528.1,411.6 528.7,412.3 529.4,412.4 530.0,411.7 530.7,412.0 531.3,412.2 532.0,412.5 532.6,412.8 533.3,412.7 533.9,412.5 534.6,412.4 535.2,412.2 535.9,412.1 536.5,412.3 537.2,412.3 537.8,412.7 538.4,413.1 539.1,412.6 539.7,412.7 540.4,412.6 541.0,412.5 541.7,412.9 542.3,412.8 543.0,412.5 543.6,412.4 544.3,412.7 544.9,412.3 545.6,412.6 546.2,412.9 546.9,412.5 547.5,411.9 548.2,412.8 548.8,412.1 549.4,412.1 550.1,412.0 550.7,412.9 551.4,411.9 552.0,412.6 552.7,412.7 553.3,412.7 554.0,412.4 554.6,412.6 555.3,412.7 555.9,412.2 556.6,412.9 557.2,413.0 557.9,412.4 558.5,412.5 559.1,412.3 559.8,413.1 560.4,412.4 561.1,412.6 561.7,412.1 562.4,413.2 563.0,412.7 563.7,412.9 564.3,413.3 565.0,413.0 565.6,412.4 566.3,413.0 566.9,413.1 567.6,412.5 568.2,412.5 568.9,412.5 569.5,413.1" fill="none" stroke="#000000" stroke-width="3.2" stroke-linejoin="round"/>
<polyline points="52.0,408.9 53.6,408.5 55.1,409.0 56.7,409.0 58.2,408.3 59.8,408.0 61.3,409.1 62.9,409.7 64.4,409.2 66.0,408.8 67.5,408.2 69.1,407.8 70.6,408.0 72.2,408.1 73.7,407.8 75.3,408.0 76.8,407.7 78.4,407.4 79.9,406.1 81.5,406.6 83.1,407.4 84.6,407.4 86.2,407.2 87.7,407.4 89.3,407.0 90.8,406.6 92.4,405.8 93.9,406.1 95.5,406.3 97.0,406.4 98.6,406.1 100.1,405.3 101.7,404.9 103.2,404.3 104.8,404.6 106.3,403.8 107.9,403.8 109.4,403.9 111.0,404.6 112.5,404.0 114.1,402.5 115.7,401.7 117.2,401.9 118.8,401.5 120.3,401.8 121.9,401.6 123.4,401.1 125.0,400.0 126.5,399.8 128.1,399.8 129.6,399.4 131.2,398.4 132.7,398.1 134.3,398.0 135.8,396.3 137.4,396.4 138.9,396.0 140.5,394.6 142.0,394.2 143.6,394.3 145.2,393.7 146.7,394.0 148.3,393.5 149.8,393.4 151.4,391.0 152.9,391.6 154.5,389.7 156.0,389.7 157.6,389.1 159.1,387.7 160.7,386.3 162.2,384.9 163.8,383.3 165.3,383.3 166.9,382.4 168.4,382.4 170.0,380.7 171.5,380.1 173.1,379.7 174.6,378.5 176.2,377.3 177.8,376.0 179.3,374.9 180.9,374.6 182.4,373.7 184.0,371.7 185.5,372.4 187.1,370.3 188.6,367.7 190.2,369.8 191.7,367.3 193.3,364.8 194.8,364.7 196.4,360.8 197.9,363.1 199.5,358.8 201.0,356.7 202.6,356.3 204.1,356.3 205.7,354.9 207.3,354.5 208.8,352.1 210.4,352.4 211.9,350.3 213.5,347.8 215.0,348.5 216.6,346.7 218.1,344.9 219.7,344.7 221.2,340.9 222.8,340.4 224.3,341.2 225.9,338.8 227.4,337.9 229.0,336.5 230.5,334.4 232.1,333.4 233.6,330.6 235.2,330.5 236.7,327.7 238.3,326.9 239.9,325.1 241.4,325.3 243.0,324.5 244.5,323.5 246.1,319.8 247.6,317.1 249.2,314.2 250.7,313.8 252.3,314.2 253.8,313.6 255.4,311.6 256.9,310.1 258.5,306.7 260.0,306.1 261.6,307.3 263.1,305.5 264.7,301.2 266.2,300.8 267.8,299.9 269.4,296.9 270.9,297.2 272.5,296.0 274.0,295.2 275.6,295.0 277.1,290.3 278.7,290.7 280.2,288.9 281.8,286.9 283.3,283.3 284.9,282.4 286.4,281.6 288.0,282.3 289.5,279.3 291.1,278.9 292.6,275.1 294.2,273.1 295.7,271.8 297.3,267.8 298.8,268.4 300.4,268.0 302.0,267.9 303.5,267.4 305.1,264.8 306.6,264.5 308.2,267.2 309.7,264.0 311.3,263.7 312.8,263.3 314.4,264.7 315.9,268.1 317.5,267.9 319.0,264.2 320.6,267.7 322.1,272.3 323.7,272.4 325.2,276.1 326.8,281.9 328.3,286.2 329.9,288.1 331.5,288.8 333.0,292.7 334.6,297.1 336.1,300.4 337.7,304.9 339.2,312.3 340.8,314.9 342.3,319.4 343.9,324.0 345.4,327.0 347.0,330.2 348.5,334.3 350.1,339.2 351.6,341.2 353.2,342.1 354.7,348.5 356.3,352.6 357.8,353.4 359.4,355.5 360.9,358.6 362.5,362.4 364.1,363.4 365.6,367.2 367.2,369.9 368.7,371.5 370.3,372.7 371.8,373.8 373.4,375.6 374.9,377.7 376.5,378.8 378.0,380.7 379.6,382.1 381.1,385.1 382.7,386.5 384.2,386.3 385.8,388.5 387.3,389.1 388.9,389.8 390.4,391.0 392.0,391.7 393.6,391.9 395.1,394.6 396.7,393.5 398.2,393.1 399.8,395.1 401.3,396.0 402.9,396.0 404.4,396.3 406.0,398.4 407.5,398.6 409.1,399.0 410.6,399.1 412.2,399.7 413.7,400.0 415.3,401.0 416.8,401.3 418.4,402.0 419.9,402.4 421.5,402.5 423.0,402.9 424.6,403.4 426.2,402.6 427.7,403.6 429.3,404.5 430.8,403.8 432.4,404.6 433.9,404.5 435.5,404.9 437.0,405.0 438.6,405.3 440.1,405.9 441.7,405.7 443.2,405.3 444.8,407.0 446.3,406.6 447.9,406.5 449.4,407.3 451.0,407.4 452.5,406.3 454.1,407.0 455.7,406.5 457.2,407.1 458.8,407.6 460.3,407.6 461.9,407.6 463.4,407.5 465.0,408.0 466.5,408.3 468.1,408.3 469.6,408.0 471.2,408.4 472.7,409.2 474.3,409.2 475.8,409.0 477.4,409.4 478.9,409.5 480.5,409.8 482.0,409.6 483.6,409.3 485.1,409.2 486.7,409.4 488.3,409.0 489.8,409.5 491.4,408.7 492.9,409.4 494.5,409.9 496.0,410.5 497.6,411.3 499.1,410.6 500.7,410.2 502.2,409.9 503.8,410.7 505.3,410.0 506.9,410.5 508.4,410.6 510.0,411.6 511.5,411.0 513.1,410.9 514.6,410.7 516.2,411.0 517.8,411.3 519.3,410.8 520.9,410.8 522.4,410.9 524.0,410.8 525.5,410.8 527.1,411.3 528.6,411.9 530.2,411.9 531.7,411.1 533.3,411.2 534.8,411.5 536.4,411.7 537.9,411.6 539.5,411.7 541.0,411.8 542.6,411.8 544.1,411.1 545.7,411.6 547.2,412.1 548.8,412.4 550.4,412.2 551.9,411.7 553.5,411.7 555.0,412.0 556.6,412.1 558.1,412.2 559.7,412.4 561.2,411.8 562.8,411.8 564.3,411.5 565.9,412.3 567.4,412.3 569.0,412.0" fill="none" stroke="#e87c1e" stroke-width="3.2" stroke-linejoin="round"/>
</g>
<text x="116.7" y="448.5" font-size="29" text-anchor="middle" fill="#111" stroke="#111">25</text>
<text x="246.1" y="448.5" font-size="29" text-anchor="middle" fill="#111" stroke="#111">26</text>
<text x="375.4" y="448.5" font-size="29" text-anchor="middle" fill="#111" stroke="#111">27</text>
<text x="504.8" y="448.5" font-size="29" text-anchor="middle" fill="#111" stroke="#111">28</text>
<text x="238.0" y="499.4" font-size="39.5" textLength="147.2" lengthAdjust="spacing" fill="#111" stroke="#111">2<tspan font-family="Liberation Serif, serif">&#952;</tspan> (deg)</text>
<text transform="translate(30.5,391) rotate(-90)" x="0" y="0" font-size="39.3" fill="#111" stroke="#111">Instensity (arb. units)</text>
<line x1="56.3" y1="23.8" x2="124.0" y2="23.8" stroke="#22e622" stroke-width="3"/>
<text x="130.0" y="34.2" font-size="29.5" fill="#111" stroke="#111">S<tspan font-size="21" dy="8">5</tspan><tspan dy="-8"> 2.0&#176;</tspan></text>
<line x1="56.3" y1="66.5" x2="124.0" y2="66.5" stroke="#e0141e" stroke-width="3"/>
<text x="130.0" y="76.9" font-size="29.5" fill="#111" stroke="#111">S<tspan font-size="21" dy="8">5</tspan><tspan dy="-8"> 1.0&#176;</tspan></text>
<line x1="56.3" y1="109.2" x2="124.0" y2="109.2" stroke="#0a0acd" stroke-width="3"/>
<text x="130.0" y="119.6" font-size="29.5" fill="#111" stroke="#111">S<tspan font-size="21" dy="8">5</tspan><tspan dy="-8"> 0.6&#176;</tspan></text>
<line x1="56.3" y1="151.8" x2="124.0" y2="151.8" stroke="#000000" stroke-width="3"/>
<text x="130.0" y="162.2" font-size="29.5" fill="#111" stroke="#111">S<tspan font-size="21" dy="8">5</tspan><tspan dy="-8"> 0.3&#176;</tspan></text>
<line x1="56.3" y1="194.5" x2="124.0" y2="194.5" stroke="#e87c1e" stroke-width="3"/>
<text x="130.0" y="204.9" font-size="29.5" fill="#111" stroke="#111">S<tspan font-size="21" dy="8">5</tspan><tspan dy="-8"> 0.0&#176;</tspan></text>
<rect x="632.4" y="2.0" width="513.8" height="412.8" fill="none" stroke="#111" stroke-width="2.2"/>
<path d="M696.6,414.8v-8.5M696.6,2.0v8.5M760.9,414.8v-4M760.9,2.0v4M825.1,414.8v-8.5M825.1,2.0v8.5M889.3,414.8v-4M889.3,2.0v4M953.5,414.8v-8.5M953.5,2.0v8.5M1017.8,414.8v-4M1017.8,2.0v4M1082.0,414.8v-8.5M1082.0,2.0v8.5M632.4,357.5h3.8M1146.2,357.5h-3.8M632.4,300.2h7.3M1146.2,300.2h-7.3M632.4,242.9h3.8M1146.2,242.9h-3.8M632.4,185.6h7.3M1146.2,185.6h-7.3M632.4,128.3h3.8M1146.2,128.3h-3.8M632.4,71.0h7.3M1146.2,71.0h-7.3M632.4,13.7h3.8M1146.2,13.7h-3.8" stroke="#111" stroke-width="2" fill="none"/>
<clipPath id="c2"><rect x="632.4" y="2.0" width="513.8000000000001" height="415.8"/></clipPath>
<g clip-path="url(#c2)">
<polyline points="632.4,411.3 633.9,411.5 635.5,411.4 637.0,411.1 638.6,411.0 640.1,411.1 641.6,410.8 643.2,410.8 644.7,410.9 646.3,411.0 647.8,411.0 649.4,410.8 650.9,410.7 652.4,410.8 654.0,410.8 655.5,410.9 657.1,411.2 658.6,411.0 660.1,410.6 661.7,410.5 663.2,410.3 664.8,410.5 666.3,410.3 667.9,410.2 669.4,410.3 670.9,410.6 672.5,410.5 674.0,410.4 675.6,410.5 677.1,410.2 678.6,410.0 680.2,410.1 681.7,409.7 683.3,410.0 684.8,410.0 686.3,410.0 687.9,410.0 689.4,409.7 691.0,409.5 692.5,409.1 694.1,409.2 695.6,409.2 697.1,409.4 698.7,409.5 700.2,409.2 701.8,409.1 703.3,408.6 704.8,408.6 706.4,408.1 707.9,408.1 709.5,408.0 711.0,408.0 712.6,407.8 714.1,407.5 715.6,407.4 717.2,407.5 718.7,407.0 720.3,406.2 721.8,406.7 723.3,406.7 724.9,406.7 726.4,406.5 728.0,405.6 729.5,405.5 731.0,405.1 732.6,404.3 734.1,403.9 735.7,404.5 737.2,403.8 738.8,403.5 740.3,403.2 741.8,402.9 743.4,402.6 744.9,401.7 746.5,401.6 748.0,401.3 749.5,400.5 751.1,400.2 752.6,400.0 754.2,399.5 755.7,398.5 757.3,398.4 758.8,398.4 760.3,398.2 761.9,397.6 763.4,397.2 765.0,396.1 766.5,395.6 768.0,395.9 769.6,394.5 771.1,393.4 772.7,393.0 774.2,392.7 775.8,391.3 777.3,391.4 778.8,391.2 780.4,390.4 781.9,389.0 783.5,387.6 785.0,386.7 786.5,386.6 788.1,386.7 789.6,385.8 791.2,385.0 792.7,384.0 794.2,383.8 795.8,382.0 797.3,380.8 798.9,380.2 800.4,379.3 802.0,379.3 803.5,378.9 805.0,377.3 806.6,375.2 808.1,374.3 809.7,374.1 811.2,372.5 812.7,372.1 814.3,370.3 815.8,369.9 817.4,369.5 818.9,368.1 820.5,368.0 822.0,367.4 823.5,366.5 825.1,364.2 826.6,363.1 828.2,362.0 829.7,360.7 831.2,358.4 832.8,358.2 834.3,357.0 835.9,354.0 837.4,352.1 838.9,351.6 840.5,351.6 842.0,348.8 843.6,345.7 845.1,343.5 846.7,340.4 848.2,339.8 849.7,336.0 851.3,333.5 852.8,329.0 854.4,326.4 855.9,322.3 857.4,320.0 859.0,317.0 860.5,312.3 862.1,307.1 863.6,301.9 865.2,294.1 866.7,288.0 868.2,283.6 869.8,279.1 871.3,271.9 872.9,265.1 874.4,255.7 875.9,249.3 877.5,242.1 879.0,236.2 880.6,230.6 882.1,221.6 883.6,213.5 885.2,203.6 886.7,196.2 888.3,190.1 889.8,181.9 891.4,172.8 892.9,169.9 894.4,164.9 896.0,158.9 897.5,155.2 899.1,151.1 900.6,146.3 902.1,146.3 903.7,155.5 905.2,159.2 906.8,165.1 908.3,172.9 909.9,181.6 911.4,190.5 912.9,198.6 914.5,210.3 916.0,220.4 917.6,230.4 919.1,240.6 920.6,250.7 922.2,259.5 923.7,270.1 925.3,279.5 926.8,288.9 928.3,298.4 929.9,306.5 931.4,314.0 933.0,320.1 934.5,327.6 936.1,334.0 937.6,338.7 939.1,344.0 940.7,350.3 942.2,352.7 943.8,357.7 945.3,361.8 946.8,364.6 948.4,368.5 949.9,371.7 951.5,373.1 953.0,377.2 954.6,379.1 956.1,380.7 957.6,383.5 959.2,384.8 960.7,385.7 962.3,386.4 963.8,389.2 965.3,390.2 966.9,390.9 968.4,392.3 970.0,393.8 971.5,394.1 973.0,394.9 974.6,395.5 976.1,395.9 977.7,396.6 979.2,397.6 980.8,398.4 982.3,399.5 983.8,399.7 985.4,400.1 986.9,400.7 988.5,401.1 990.0,401.7 991.5,401.3 993.1,401.4 994.6,402.6 996.2,403.0 997.7,403.4 999.3,403.3 1000.8,403.8 1002.3,404.3 1003.9,404.7 1005.4,404.9 1007.0,405.4 1008.5,405.3 1010.0,405.8 1011.6,405.7 1013.1,405.9 1014.7,405.9 1016.2,406.3 1017.8,406.4 1019.3,407.0 1020.8,406.9 1022.4,407.2 1023.9,407.3 1025.5,407.4 1027.0,407.5 1028.5,408.2 1030.1,408.0 1031.6,408.3 1033.2,408.0 1034.7,408.8 1036.2,408.8 1037.8,408.9 1039.3,408.3 1040.9,408.9 1042.4,408.8 1044.0,409.1 1045.5,409.4 1047.0,409.2 1048.6,409.0 1050.1,409.1 1051.7,409.0 1053.2,409.4 1054.7,409.4 1056.3,409.5 1057.8,409.4 1059.4,409.1 1060.9,409.5 1062.5,409.7 1064.0,409.9 1065.5,410.0 1067.1,409.6 1068.6,410.2 1070.2,410.3 1071.7,410.1 1073.2,410.1 1074.8,409.8 1076.3,410.6 1077.9,410.2 1079.4,410.1 1080.9,410.5 1082.5,410.5 1084.0,410.2 1085.6,410.1 1087.1,410.6 1088.7,410.8 1090.2,410.3 1091.7,410.2 1093.3,410.7 1094.8,411.0 1096.4,410.5 1097.9,410.6 1099.4,410.5 1101.0,410.7 1102.5,410.9 1104.1,410.8 1105.6,410.5 1107.2,410.6 1108.7,411.3 1110.2,411.1 1111.8,410.6 1113.3,411.0 1114.9,411.3 1116.4,411.1 1117.9,411.1 1119.5,411.1 1121.0,411.2 1122.6,411.2 1124.1,411.2 1125.6,411.1 1127.2,411.3 1128.7,411.3 1130.3,411.2 1131.8,411.0 1133.4,411.1 1134.9,411.2 1136.4,411.2 1138.0,411.1 1139.5,411.1 1141.1,411.1 1142.6,410.9 1144.1,411.0 1145.7,411.3" fill="none" stroke="#22e622" stroke-width="3.2" stroke-linejoin="round"/>
<polyline points="632.4,411.2 633.9,411.0 635.5,411.0 637.0,411.2 638.6,411.5 640.1,411.5 641.6,411.0 643.2,410.8 644.7,410.9 646.3,411.2 647.8,410.8 649.4,411.0 650.9,410.8 652.4,410.8 654.0,411.0 655.5,411.0 657.1,411.2 658.6,411.1 660.1,411.1 661.7,410.7 663.2,410.6 664.8,410.4 666.3,410.5 667.9,410.6 669.4,410.4 670.9,410.4 672.5,410.2 674.0,410.2 675.6,410.4 677.1,410.2 678.6,410.1 680.2,410.1 681.7,409.7 683.3,409.5 684.8,409.8 686.3,409.9 687.9,410.1 689.4,409.7 691.0,409.6 692.5,409.8 694.1,409.2 695.6,409.0 697.1,409.1 698.7,409.0 700.2,408.9 701.8,408.5 703.3,408.8 704.8,408.3 706.4,407.6 707.9,407.8 709.5,407.6 711.0,407.6 712.6,407.7 714.1,407.2 715.6,406.9 717.2,406.9 718.7,406.3 720.3,405.7 721.8,405.6 723.3,406.1 724.9,405.9 726.4,405.5 728.0,404.5 729.5,404.1 731.0,403.9 732.6,404.0 734.1,403.8 735.7,403.0 737.2,402.6 738.8,402.5 740.3,401.7 741.8,401.1 743.4,400.8 744.9,400.9 746.5,400.8 748.0,399.7 749.5,398.9 751.1,398.5 752.6,398.1 754.2,397.5 755.7,396.5 757.3,396.0 758.8,395.5 760.3,395.3 761.9,394.6 763.4,393.6 765.0,393.5 766.5,392.9 768.0,391.7 769.6,390.2 771.1,389.7 772.7,388.6 774.2,388.5 775.8,388.1 777.3,387.8 778.8,386.5 780.4,384.6 781.9,384.1 783.5,383.2 785.0,382.4 786.5,381.9 788.1,381.2 789.6,380.1 791.2,378.9 792.7,378.1 794.2,377.2 795.8,376.6 797.3,376.3 798.9,375.2 800.4,374.4 802.0,372.8 803.5,373.3 805.0,371.2 806.6,368.7 808.1,369.3 809.7,369.1 811.2,367.4 812.7,365.6 814.3,365.3 815.8,364.1 817.4,363.5 818.9,362.4 820.5,359.4 822.0,360.2 823.5,360.1 825.1,359.0 826.6,357.3 828.2,356.0 829.7,354.8 831.2,354.3 832.8,354.1 834.3,351.7 835.9,350.7 837.4,349.7 838.9,349.0 840.5,346.9 842.0,345.0 843.6,342.8 845.1,341.5 846.7,338.2 848.2,335.5 849.7,333.7 851.3,330.4 852.8,326.8 854.4,322.1 855.9,320.3 857.4,314.6 859.0,310.1 860.5,303.3 862.1,295.8 863.6,290.2 865.2,282.6 866.7,275.0 868.2,263.7 869.8,254.9 871.3,245.8 872.9,238.5 874.4,227.4 875.9,213.3 877.5,202.4 879.0,190.4 880.6,177.3 882.1,165.9 883.6,150.4 885.2,137.6 886.7,124.5 888.3,113.2 889.8,99.8 891.4,89.4 892.9,76.3 894.4,65.9 896.0,58.3 897.5,52.6 899.1,49.1 900.6,51.0 902.1,45.4 903.7,48.9 905.2,53.7 906.8,61.6 908.3,72.1 909.9,80.7 911.4,89.6 912.9,101.3 914.5,118.1 916.0,132.6 917.6,144.2 919.1,160.9 920.6,172.6 922.2,189.6 923.7,205.4 925.3,216.9 926.8,229.9 928.3,246.0 929.9,256.1 931.4,268.9 933.0,278.9 934.5,291.4 936.1,302.3 937.6,309.4 939.1,316.8 940.7,323.5 942.2,331.0 943.8,338.7 945.3,345.6 946.8,351.3 948.4,356.1 949.9,360.8 951.5,364.8 953.0,369.4 954.6,371.1 956.1,373.4 957.6,374.7 959.2,378.0 960.7,381.0 962.3,382.7 963.8,385.2 965.3,386.8 966.9,388.4 968.4,388.3 970.0,389.7 971.5,391.7 973.0,392.2 974.6,392.6 976.1,393.7 977.7,394.7 979.2,396.0 980.8,396.6 982.3,396.9 983.8,397.3 985.4,398.5 986.9,399.2 988.5,399.0 990.0,400.0 991.5,399.9 993.1,400.5 994.6,400.7 996.2,400.8 997.7,401.5 999.3,402.1 1000.8,403.0 1002.3,403.3 1003.9,403.1 1005.4,403.0 1007.0,403.2 1008.5,403.4 1010.0,404.2 1011.6,404.6 1013.1,404.7 1014.7,405.2 1016.2,405.5 1017.8,405.9 1019.3,405.7 1020.8,406.3 1022.4,406.2 1023.9,406.7 1025.5,406.4 1027.0,406.9 1028.5,406.8 1030.1,407.5 1031.6,407.3 1033.2,407.1 1034.7,407.6 1036.2,407.6 1037.8,408.0 1039.3,408.4 1040.9,408.0 1042.4,408.0 1044.0,408.4 1045.5,408.2 1047.0,408.6 1048.6,408.7 1050.1,408.6 1051.7,408.7 1053.2,408.3 1054.7,409.0 1056.3,408.7 1057.8,408.8 1059.4,409.5 1060.9,409.5 1062.5,409.1 1064.0,409.3 1065.5,409.1 1067.1,409.1 1068.6,409.5 1070.2,409.8 1071.7,410.2 1073.2,409.7 1074.8,409.8 1076.3,409.6 1077.9,409.7 1079.4,410.0 1080.9,409.4 1082.5,409.5 1084.0,409.7 1085.6,410.2 1087.1,410.1 1088.7,410.2 1090.2,410.2 1091.7,410.3 1093.3,410.1 1094.8,410.1 1096.4,410.1 1097.9,410.3 1099.4,410.0 1101.0,410.3 1102.5,410.9 1104.1,410.6 1105.6,410.4 1107.2,410.3 1108.7,410.5 1110.2,410.6 1111.8,410.6 1113.3,410.5 1114.9,410.7 1116.4,410.8 1117.9,410.8 1119.5,410.6 1121.0,410.8 1122.6,411.0 1124.1,410.7 1125.6,410.8 1127.2,410.7 1128.7,410.7 1130.3,410.5 1131.8,410.6 1133.4,410.9 1134.9,411.0 1136.4,411.1 1138.0,410.6 1139.5,410.7 1141.1,410.7 1142.6,411.1 1144.1,411.3 1145.7,410.8" fill="none" stroke="#e0141e" stroke-width="3.2" stroke-linejoin="round"/>
<polyline points="632.4,411.4 633.0,411.4 633.7,411.4 634.3,411.2 635.0,411.3 635.6,411.8 636.3,411.1 636.9,411.5 637.5,411.5 638.2,410.9 638.8,411.1 639.5,411.4 640.1,411.8 640.7,411.2 641.4,411.1 642.0,411.3 642.7,411.6 643.3,411.4 644.0,411.5 644.6,411.1 645.2,411.0 645.9,410.9 646.5,411.3 647.2,411.1 647.8,411.0 648.5,411.2 649.1,411.1 649.7,410.5 650.4,411.0 651.0,410.8 651.7,411.1 652.3,411.0 653.0,411.5 653.6,411.0 654.2,410.6 654.9,410.4 655.5,410.6 656.2,410.7 656.8,410.9 657.4,411.0 658.1,410.9 658.7,410.6 659.4,411.0 660.0,410.5 660.7,411.0 661.3,411.2 661.9,411.0 662.6,411.1 663.2,411.0 663.9,410.3 664.5,410.7 665.2,410.5 665.8,410.2 666.4,410.2 667.1,410.6 667.7,410.1 668.4,410.3 669.0,410.4 669.7,410.2 670.3,410.8 670.9,410.5 671.6,410.3 672.2,410.1 672.9,410.3 673.5,410.2 674.1,409.9 674.8,409.7 675.4,409.8 676.1,409.7 676.7,410.1 677.4,410.1 678.0,409.8 678.6,410.0 679.3,410.0 679.9,409.3 680.6,409.8 681.2,410.0 681.9,409.5 682.5,409.0 683.1,409.5 683.8,409.1 684.4,409.6 685.1,409.6 685.7,409.6 686.3,409.4 687.0,408.7 687.6,409.6 688.3,408.6 688.9,409.4 689.6,409.1 690.2,408.7 690.8,408.7 691.5,408.8 692.1,409.4 692.8,408.6 693.4,409.0 694.1,407.7 694.7,408.6 695.3,408.4 696.0,408.8 696.6,408.5 697.3,408.7 697.9,407.8 698.6,408.2 699.2,407.8 699.8,408.2 700.5,408.1 701.1,407.3 701.8,408.1 702.4,408.3 703.0,407.4 703.7,407.9 704.3,407.5 705.0,406.9 705.6,407.5 706.3,406.8 706.9,407.3 707.5,406.3 708.2,406.3 708.8,406.9 709.5,406.7 710.1,406.8 710.8,406.3 711.4,405.8 712.0,406.7 712.7,405.7 713.3,406.5 714.0,406.2 714.6,406.4 715.3,404.7 715.9,405.4 716.5,405.2 717.2,405.5 717.8,404.6 718.5,405.8 719.1,404.8 719.7,403.7 720.4,404.7 721.0,404.3 721.7,403.9 722.3,404.4 723.0,403.9 723.6,403.3 724.2,403.5 724.9,403.3 725.5,403.4 726.2,403.0 726.8,402.9 727.5,402.1 728.1,402.3 728.7,402.6 729.4,403.5 730.0,401.7 730.7,401.5 731.3,402.2 731.9,402.5 732.6,401.9 733.2,400.7 733.9,401.5 734.5,401.0 735.2,400.4 735.8,399.7 736.4,400.2 737.1,400.0 737.7,400.0 738.4,398.6 739.0,398.7 739.7,399.1 740.3,399.6 740.9,399.1 741.6,398.1 742.2,398.6 742.9,397.4 743.5,397.5 744.2,397.3 744.8,396.8 745.4,396.6 746.1,397.2 746.7,396.6 747.4,394.8 748.0,396.6 748.6,395.9 749.3,394.7 749.9,395.2 750.6,395.3 751.2,395.4 751.9,394.0 752.5,393.4 753.1,392.8 753.8,393.4 754.4,392.5 755.1,393.5 755.7,392.4 756.4,392.7 757.0,391.8 757.6,391.2 758.3,390.6 758.9,391.7 759.6,389.9 760.2,390.7 760.8,390.8 761.5,389.9 762.1,390.5 762.8,389.1 763.4,388.6 764.1,388.6 764.7,387.7 765.3,388.0 766.0,387.4 766.6,388.1 767.3,386.7 767.9,387.0 768.6,386.4 769.2,385.8 769.8,385.2 770.5,386.2 771.1,385.8 771.8,384.5 772.4,383.5 773.1,383.3 773.7,382.5 774.3,381.8 775.0,382.0 775.6,382.1 776.3,382.5 776.9,382.0 777.5,381.3 778.2,380.3 778.8,380.0 779.5,379.7 780.1,379.5 780.8,378.4 781.4,378.4 782.0,377.9 782.7,377.5 783.3,377.8 784.0,377.9 784.6,376.2 785.3,375.8 785.9,376.0 786.5,375.7 787.2,373.0 787.8,375.2 788.5,374.3 789.1,373.5 789.8,374.4 790.4,372.8 791.0,370.9 791.7,371.2 792.3,371.1 793.0,370.7 793.6,370.7 794.2,369.5 794.9,370.2 795.5,370.0 796.2,369.1 796.8,367.9 797.5,368.0 798.1,367.3 798.7,369.4 799.4,365.9 800.0,364.4 800.7,364.9 801.3,366.1 802.0,366.2 802.6,364.7 803.2,365.5 803.9,363.4 804.5,364.2 805.2,362.3 805.8,361.5 806.4,364.4 807.1,361.7 807.7,362.2 808.4,362.5 809.0,361.3 809.7,360.5 810.3,358.8 810.9,361.0 811.6,357.9 812.2,356.4 812.9,357.5 813.5,357.1 814.2,357.2 814.8,358.0 815.4,355.8 816.1,355.5 816.7,354.7 817.4,352.3 818.0,353.8 818.7,353.7 819.3,352.0 819.9,354.8 820.6,354.1 821.2,352.8 821.9,352.7 822.5,350.8 823.1,351.4 823.8,348.7 824.4,348.5 825.1,348.8 825.7,349.7 826.4,348.1 827.0,347.4 827.6,349.1 828.3,347.0 828.9,346.1 829.6,346.2 830.2,344.1 830.9,344.0 831.5,345.9 832.1,344.3 832.8,344.9 833.4,342.8 834.1,343.9 834.7,341.3 835.4,341.4 836.0,340.2 836.6,341.0 837.3,342.0 837.9,337.5 838.6,339.3 839.2,336.8 839.8,337.4 840.5,336.5 841.1,334.5 841.8,335.7 842.4,333.7 843.1,336.6 843.7,333.0 844.3,333.7 845.0,332.9 845.6,332.0 846.3,330.9 846.9,328.5 847.6,332.2 848.2,329.0 848.8,329.2 849.5,325.9 850.1,327.1 850.8,325.1 851.4,325.4 852.0,323.1 852.7,321.7 853.3,322.6 854.0,321.0 854.6,322.0 855.3,318.7 855.9,316.8 856.5,317.7 857.2,314.3 857.8,317.6 858.5,316.1 859.1,314.2 859.8,311.7 860.4,309.7 861.0,308.6 861.7,307.2 862.3,304.7 863.0,305.0 863.6,304.7 864.3,303.2 864.9,296.7 865.5,301.8 866.2,296.9 866.8,292.8 867.5,292.6 868.1,292.8 868.7,289.8 869.4,286.6 870.0,284.2 870.7,285.6 871.3,281.0 872.0,279.8 872.6,276.4 873.2,273.9 873.9,274.6 874.5,274.3 875.2,269.0 875.8,264.4 876.5,264.0 877.1,262.5 877.7,256.4 878.4,260.0 879.0,254.2 879.7,254.4 880.3,250.8 881.0,248.3 881.6,243.3 882.2,245.3 882.9,242.1 883.5,241.6 884.2,235.3 884.8,234.6 885.4,230.6 886.1,231.0 886.7,227.3 887.4,222.4 888.0,222.5 888.7,218.8 889.3,216.9 889.9,216.6 890.6,217.1 891.2,210.3 891.9,210.2 892.5,207.1 893.2,211.6 893.8,209.6 894.4,209.5 895.1,206.0 895.7,201.3 896.4,201.6 897.0,202.4 897.6,201.8 898.3,200.4 898.9,202.6 899.6,201.5 900.2,202.6 900.9,208.0 901.5,205.4 902.1,203.2 902.8,208.2 903.4,209.4 904.1,212.3 904.7,214.2 905.4,213.4 906.0,218.6 906.6,222.7 907.3,229.6 907.9,227.6 908.6,233.3 909.2,236.2 909.9,234.5 910.5,238.0 911.1,246.2 911.8,244.6 912.4,248.7 913.1,254.4 913.7,255.2 914.3,262.8 915.0,265.5 915.6,269.3 916.3,272.2 916.9,272.3 917.6,279.3 918.2,282.3 918.8,285.2 919.5,286.6 920.1,290.6 920.8,291.8 921.4,297.3 922.1,301.1 922.7,302.9 923.3,304.9 924.0,309.1 924.6,310.1 925.3,310.6 925.9,316.6 926.6,318.2 927.2,319.0 927.8,324.0 928.5,326.6 929.1,329.2 929.8,329.5 930.4,331.5 931.0,334.5 931.7,336.3 932.3,336.7 933.0,339.2 933.6,343.7 934.3,343.9 934.9,345.5 935.5,346.5 936.2,349.3 936.8,351.3 937.5,352.7 938.1,355.6 938.8,355.2 939.4,357.2 940.0,357.5 940.7,360.4 941.3,361.1 942.0,362.9 942.6,364.2 943.2,363.6 943.9,365.9 944.5,366.1 945.2,368.7 945.8,368.6 946.5,371.3 947.1,371.2 947.7,372.1 948.4,372.1 949.0,373.4 949.7,374.6 950.3,374.5 951.0,375.9 951.6,376.4 952.2,377.0 952.9,378.5 953.5,379.4 954.2,379.6 954.8,380.9 955.5,380.9 956.1,381.0 956.7,381.9 957.4,383.5 958.0,384.8 958.7,384.4 959.3,385.1 959.9,384.7 960.6,386.3 961.2,386.8 961.9,386.6 962.5,388.0 963.2,388.2 963.8,387.4 964.4,388.0 965.1,389.1 965.7,389.8 966.4,391.1 967.0,390.4 967.7,391.2 968.3,391.5 968.9,392.4 969.6,392.4 970.2,392.9 970.9,392.9 971.5,392.6 972.2,393.6 972.8,395.2 973.4,395.1 974.1,395.8 974.7,395.7 975.4,395.1 976.0,395.5 976.6,396.4 977.3,396.2 977.9,397.1 978.6,397.8 979.2,398.0 979.9,398.0 980.5,396.9 981.1,398.7 981.8,397.5 982.4,397.7 983.1,398.8 983.7,399.0 984.4,399.5 985.0,399.4 985.6,399.3 986.3,399.8 986.9,399.5 987.6,399.6 988.2,400.3 988.8,400.5 989.5,400.9 990.1,400.9 990.8,401.8 991.4,401.2 992.1,401.5 992.7,402.2 993.3,400.8 994.0,402.6 994.6,402.7 995.3,402.3 995.9,403.5 996.6,403.1 997.2,403.6 997.8,403.5 998.5,403.2 999.1,403.2 999.8,402.9 1000.4,403.2 1001.1,403.2 1001.7,403.6 1002.3,404.2 1003.0,403.6 1003.6,404.4 1004.3,404.6 1004.9,403.8 1005.5,404.2 1006.2,404.6 1006.8,404.5 1007.5,404.5 1008.1,405.6 1008.8,405.2 1009.4,405.7 1010.0,405.3 1010.7,405.7 1011.3,405.0 1012.0,405.4 1012.6,406.1 1013.3,405.8 1013.9,406.4 1014.5,406.0 1015.2,405.9 1015.8,406.1 1016.5,407.1 1017.1,406.5 1017.7,406.2 1018.4,406.4 1019.0,406.1 1019.7,407.2 1020.3,406.5 1021.0,407.1 1021.6,406.8 1022.2,406.8 1022.9,406.8 1023.5,407.3 1024.2,407.1 1024.8,407.7 1025.5,407.8 1026.1,407.2 1026.7,407.5 1027.4,408.1 1028.0,407.9 1028.7,407.6 1029.3,407.1 1030.0,407.4 1030.6,407.5 1031.2,408.5 1031.9,408.0 1032.5,407.8 1033.2,407.9 1033.8,407.9 1034.4,408.2 1035.1,407.6 1035.7,407.7 1036.4,408.3 1037.0,408.7 1037.7,407.7 1038.3,408.6 1038.9,408.1 1039.6,407.9 1040.2,408.9 1040.9,408.5 1041.5,408.8 1042.2,408.5 1042.8,408.6 1043.4,408.1 1044.1,408.6 1044.7,408.9 1045.4,408.5 1046.0,409.0 1046.7,409.1 1047.3,408.3 1047.9,409.3 1048.6,409.3 1049.2,409.1 1049.9,409.5 1050.5,409.9 1051.1,408.9 1051.8,409.5 1052.4,409.5 1053.1,409.5 1053.7,409.7 1054.4,409.8 1055.0,409.4 1055.6,408.7 1056.3,409.3 1056.9,409.3 1057.6,410.1 1058.2,409.6 1058.9,410.0 1059.5,409.4 1060.1,409.8 1060.8,409.7 1061.4,409.8 1062.1,410.0 1062.7,410.3 1063.3,409.7 1064.0,410.3 1064.6,410.3 1065.3,410.0 1065.9,410.2 1066.6,409.9 1067.2,409.7 1067.8,409.9 1068.5,410.0 1069.1,410.1 1069.8,409.8 1070.4,410.7 1071.1,410.0 1071.7,410.4 1072.3,410.6 1073.0,410.2 1073.6,410.3 1074.3,410.1 1074.9,410.0 1075.6,411.0 1076.2,410.3 1076.8,409.8 1077.5,410.1 1078.1,410.0 1078.8,410.4 1079.4,410.8 1080.0,410.8 1080.7,410.3 1081.3,410.2 1082.0,410.7 1082.6,410.6 1083.3,410.5 1083.9,411.1 1084.5,410.7 1085.2,410.1 1085.8,410.0 1086.5,410.7 1087.1,410.1 1087.8,410.8 1088.4,410.9 1089.0,411.3 1089.7,410.5 1090.3,410.8 1091.0,410.1 1091.6,410.7 1092.3,410.7 1092.9,411.3 1093.5,410.4 1094.2,410.9 1094.8,410.9 1095.5,411.5 1096.1,410.6 1096.7,410.6 1097.4,411.1 1098.0,410.9 1098.7,410.8 1099.3,410.7 1100.0,411.0 1100.6,410.5 1101.2,411.1 1101.9,411.2 1102.5,411.2 1103.2,411.7 1103.8,411.3 1104.5,410.8 1105.1,411.0 1105.7,411.3 1106.4,411.0 1107.0,411.7 1107.7,411.2 1108.3,411.0 1108.9,411.0 1109.6,411.4 1110.2,411.0 1110.9,410.7 1111.5,411.3 1112.2,411.0 1112.8,411.7 1113.4,411.8 1114.1,411.1 1114.7,411.3 1115.4,411.2 1116.0,411.5 1116.7,411.4 1117.3,411.1 1117.9,410.9 1118.6,411.4 1119.2,411.8 1119.9,411.0 1120.5,411.2 1121.2,411.2 1121.8,411.4 1122.4,410.8 1123.1,411.4 1123.7,411.3 1124.4,411.9 1125.0,411.6 1125.6,411.6 1126.3,411.5 1126.9,411.4 1127.6,411.7 1128.2,411.1 1128.9,411.8 1129.5,411.6 1130.1,411.5 1130.8,411.9 1131.4,411.4 1132.1,411.4 1132.7,411.6 1133.4,411.1 1134.0,411.6 1134.6,411.5 1135.3,411.8 1135.9,412.0 1136.6,411.8 1137.2,411.7 1137.9,411.8 1138.5,411.5 1139.1,412.2 1139.8,411.9 1140.4,412.1 1141.1,411.4 1141.7,411.8 1142.3,411.8 1143.0,412.0 1143.6,411.5 1144.3,411.8 1144.9,411.7 1145.6,412.2 1146.2,411.5" fill="none" stroke="#0a0acd" stroke-width="3.2" stroke-linejoin="round"/>
<polyline points="632.4,410.3 633.0,410.2 633.7,410.0 634.3,410.4 635.0,410.4 635.6,410.1 636.3,410.2 636.9,410.4 637.5,410.3 638.2,410.5 638.8,410.1 639.5,410.0 640.1,410.3 640.7,409.7 641.4,410.7 642.0,410.3 642.7,409.7 643.3,410.4 644.0,410.7 644.6,409.8 645.2,410.0 645.9,410.6 646.5,409.9 647.2,410.5 647.8,410.6 648.5,410.2 649.1,410.3 649.7,410.5 650.4,410.2 651.0,410.4 651.7,410.0 652.3,410.1 653.0,409.8 653.6,410.2 654.2,410.4 654.9,410.4 655.5,410.1 656.2,409.5 656.8,409.7 657.4,410.1 658.1,409.6 658.7,410.3 659.4,409.5 660.0,410.0 660.7,409.6 661.3,409.6 661.9,409.9 662.6,409.7 663.2,410.1 663.9,409.7 664.5,409.3 665.2,408.3 665.8,409.4 666.4,409.6 667.1,409.9 667.7,409.2 668.4,410.1 669.0,409.8 669.7,409.4 670.3,409.9 670.9,408.9 671.6,409.0 672.2,409.6 672.9,409.5 673.5,409.8 674.1,409.8 674.8,409.1 675.4,409.0 676.1,409.0 676.7,409.0 677.4,409.3 678.0,408.9 678.6,409.5 679.3,409.0 679.9,408.4 680.6,408.4 681.2,409.0 681.9,408.9 682.5,408.3 683.1,408.1 683.8,409.2 684.4,408.8 685.1,408.5 685.7,408.1 686.3,408.8 687.0,408.2 687.6,408.5 688.3,407.4 688.9,408.1 689.6,408.2 690.2,408.3 690.8,407.7 691.5,407.7 692.1,408.4 692.8,407.8 693.4,408.3 694.1,408.0 694.7,408.2 695.3,408.1 696.0,407.8 696.6,407.8 697.3,407.2 697.9,407.0 698.6,407.3 699.2,407.6 699.8,406.7 700.5,407.8 701.1,407.7 701.8,406.5 702.4,406.4 703.0,406.2 703.7,406.6 704.3,406.9 705.0,406.5 705.6,405.9 706.3,406.4 706.9,406.3 707.5,406.5 708.2,406.3 708.8,405.3 709.5,405.3 710.1,406.0 710.8,405.8 711.4,405.4 712.0,404.8 712.7,405.5 713.3,404.9 714.0,405.7 714.6,405.1 715.3,404.2 715.9,403.8 716.5,404.7 717.2,404.3 717.8,403.4 718.5,403.9 719.1,403.8 719.7,403.1 720.4,403.1 721.0,402.5 721.7,402.5 722.3,403.0 723.0,402.6 723.6,402.4 724.2,402.9 724.9,402.5 725.5,401.3 726.2,402.5 726.8,400.9 727.5,401.1 728.1,401.1 728.7,400.6 729.4,400.4 730.0,399.8 730.7,400.5 731.3,400.2 731.9,400.0 732.6,398.5 733.2,398.9 733.9,399.7 734.5,399.2 735.2,399.1 735.8,398.5 736.4,398.1 737.1,396.6 737.7,398.9 738.4,396.9 739.0,397.0 739.7,397.5 740.3,396.9 740.9,396.8 741.6,396.2 742.2,395.3 742.9,396.7 743.5,394.6 744.2,395.4 744.8,393.9 745.4,394.3 746.1,393.5 746.7,393.6 747.4,393.0 748.0,393.4 748.6,393.7 749.3,392.3 749.9,392.0 750.6,390.7 751.2,393.3 751.9,391.7 752.5,390.5 753.1,391.8 753.8,390.7 754.4,388.7 755.1,388.9 755.7,390.2 756.4,388.2 757.0,388.0 757.6,387.9 758.3,387.9 758.9,387.6 759.6,388.2 760.2,387.5 760.8,386.2 761.5,386.3 762.1,384.5 762.8,385.9 763.4,387.2 764.1,385.2 764.7,384.3 765.3,383.8 766.0,383.7 766.6,384.0 767.3,381.7 767.9,383.1 768.6,381.6 769.2,382.0 769.8,382.4 770.5,379.8 771.1,382.8 771.8,380.9 772.4,379.4 773.1,379.7 773.7,378.3 774.3,378.6 775.0,378.5 775.6,375.7 776.3,377.5 776.9,377.0 777.5,377.4 778.2,376.7 778.8,375.0 779.5,374.6 780.1,374.7 780.8,375.0 781.4,373.2 782.0,375.1 782.7,373.3 783.3,372.8 784.0,372.9 784.6,371.5 785.3,371.9 785.9,371.6 786.5,368.6 787.2,369.2 787.8,368.3 788.5,369.0 789.1,367.7 789.8,367.4 790.4,366.5 791.0,364.9 791.7,367.1 792.3,366.2 793.0,366.1 793.6,369.2 794.2,366.6 794.9,364.7 795.5,363.6 796.2,364.4 796.8,362.2 797.5,361.6 798.1,363.0 798.7,360.6 799.4,359.8 800.0,360.7 800.7,361.9 801.3,358.8 802.0,360.1 802.6,360.0 803.2,359.0 803.9,359.3 804.5,357.1 805.2,357.0 805.8,356.1 806.4,356.4 807.1,357.5 807.7,356.4 808.4,354.8 809.0,355.8 809.7,351.6 810.3,354.8 810.9,354.8 811.6,352.4 812.2,352.5 812.9,353.0 813.5,352.8 814.2,351.6 814.8,350.7 815.4,350.4 816.1,351.3 816.7,350.0 817.4,349.1 818.0,348.8 818.7,353.0 819.3,350.0 819.9,349.5 820.6,348.4 821.2,347.5 821.9,346.2 822.5,346.2 823.1,346.7 823.8,346.1 824.4,343.6 825.1,346.1 825.7,344.5 826.4,342.6 827.0,343.7 827.6,346.2 828.3,342.8 828.9,343.3 829.6,342.5 830.2,340.6 830.9,340.9 831.5,341.4 832.1,339.5 832.8,339.6 833.4,339.6 834.1,338.9 834.7,338.4 835.4,338.7 836.0,338.4 836.6,337.3 837.3,338.0 837.9,337.9 838.6,334.0 839.2,335.5 839.8,334.7 840.5,334.3 841.1,333.5 841.8,332.9 842.4,332.2 843.1,332.8 843.7,329.8 844.3,331.4 845.0,328.4 845.6,331.8 846.3,329.9 846.9,326.3 847.6,327.2 848.2,327.2 848.8,325.0 849.5,326.2 850.1,323.8 850.8,326.2 851.4,322.9 852.0,322.3 852.7,319.7 853.3,318.4 854.0,320.0 854.6,315.4 855.3,317.7 855.9,318.9 856.5,318.4 857.2,311.5 857.8,312.9 858.5,312.6 859.1,311.7 859.8,311.1 860.4,306.2 861.0,307.3 861.7,303.2 862.3,305.1 863.0,307.2 863.6,301.0 864.3,301.6 864.9,300.1 865.5,295.9 866.2,297.5 866.8,293.9 867.5,294.4 868.1,294.2 868.7,290.8 869.4,291.2 870.0,286.7 870.7,285.7 871.3,285.8 872.0,283.4 872.6,282.0 873.2,282.0 873.9,278.5 874.5,278.9 875.2,276.0 875.8,277.2 876.5,273.9 877.1,271.9 877.7,272.6 878.4,270.4 879.0,269.2 879.7,265.5 880.3,266.7 881.0,263.3 881.6,259.9 882.2,260.7 882.9,263.1 883.5,258.6 884.2,255.7 884.8,257.0 885.4,253.3 886.1,253.1 886.7,252.5 887.4,252.9 888.0,252.5 888.7,251.2 889.3,249.8 889.9,248.3 890.6,247.9 891.2,248.8 891.9,247.7 892.5,246.8 893.2,250.5 893.8,248.7 894.4,248.7 895.1,247.6 895.7,248.0 896.4,248.2 897.0,249.7 897.6,247.3 898.3,248.6 898.9,253.0 899.6,250.7 900.2,253.7 900.9,249.4 901.5,254.6 902.1,255.7 902.8,256.1 903.4,258.1 904.1,259.3 904.7,257.9 905.4,262.0 906.0,262.6 906.6,263.9 907.3,269.5 907.9,266.7 908.6,270.4 909.2,272.0 909.9,277.2 910.5,276.4 911.1,279.2 911.8,283.0 912.4,280.4 913.1,285.5 913.7,289.1 914.3,290.6 915.0,291.6 915.6,293.5 916.3,296.7 916.9,297.9 917.6,299.8 918.2,306.3 918.8,307.3 919.5,310.2 920.1,310.8 920.8,311.0 921.4,314.3 922.1,319.0 922.7,320.0 923.3,320.2 924.0,324.5 924.6,325.9 925.3,327.4 925.9,332.3 926.6,330.7 927.2,333.3 927.8,334.9 928.5,338.8 929.1,340.3 929.8,341.9 930.4,342.6 931.0,344.6 931.7,346.2 932.3,345.9 933.0,348.1 933.6,352.1 934.3,353.6 934.9,352.4 935.5,356.2 936.2,355.8 936.8,357.0 937.5,360.8 938.1,361.8 938.8,362.8 939.4,365.1 940.0,366.4 940.7,367.1 941.3,367.0 942.0,369.5 942.6,370.4 943.2,371.7 943.9,373.6 944.5,372.0 945.2,376.6 945.8,376.0 946.5,375.8 947.1,378.5 947.7,377.6 948.4,377.9 949.0,380.6 949.7,380.5 950.3,382.4 951.0,381.8 951.6,382.9 952.2,383.6 952.9,383.3 953.5,384.8 954.2,384.7 954.8,385.9 955.5,388.0 956.1,387.5 956.7,387.9 957.4,389.9 958.0,388.4 958.7,389.8 959.3,390.1 959.9,391.6 960.6,391.3 961.2,391.6 961.9,392.5 962.5,392.7 963.2,394.6 963.8,392.6 964.4,394.7 965.1,395.8 965.7,395.4 966.4,395.7 967.0,395.1 967.7,396.4 968.3,396.0 968.9,397.1 969.6,395.4 970.2,396.7 970.9,396.2 971.5,398.3 972.2,397.5 972.8,398.8 973.4,398.1 974.1,398.3 974.7,399.9 975.4,399.9 976.0,400.1 976.6,400.5 977.3,400.3 977.9,400.7 978.6,401.1 979.2,400.5 979.9,400.4 980.5,401.7 981.1,401.4 981.8,401.3 982.4,401.6 983.1,402.0 983.7,401.4 984.4,401.6 985.0,401.8 985.6,402.4 986.3,401.4 986.9,401.7 987.6,403.0 988.2,403.0 988.8,402.5 989.5,403.6 990.1,403.1 990.8,403.4 991.4,403.9 992.1,403.8 992.7,404.6 993.3,404.2 994.0,405.1 994.6,403.1 995.3,403.6 995.9,403.8 996.6,404.4 997.2,404.2 997.8,404.1 998.5,404.4 999.1,404.5 999.8,405.5 1000.4,404.9 1001.1,405.5 1001.7,405.8 1002.3,405.9 1003.0,405.3 1003.6,405.1 1004.3,406.3 1004.9,405.0 1005.5,405.2 1006.2,406.1 1006.8,406.2 1007.5,406.1 1008.1,405.7 1008.8,406.4 1009.4,406.7 1010.0,406.2 1010.7,407.3 1011.3,406.4 1012.0,406.0 1012.6,406.5 1013.3,406.3 1013.9,406.5 1014.5,406.5 1015.2,406.8 1015.8,407.2 1016.5,407.0 1017.1,407.0 1017.7,406.5 1018.4,406.4 1019.0,407.0 1019.7,407.5 1020.3,407.6 1021.0,407.4 1021.6,406.8 1022.2,407.3 1022.9,407.5 1023.5,407.8 1024.2,407.2 1024.8,407.5 1025.5,407.7 1026.1,407.6 1026.7,407.1 1027.4,407.8 1028.0,407.1 1028.7,407.4 1029.3,407.9 1030.0,407.6 1030.6,408.0 1031.2,408.3 1031.9,408.1 1032.5,408.4 1033.2,407.9 1033.8,408.1 1034.4,407.9 1035.1,407.9 1035.7,409.4 1036.4,408.1 1037.0,409.0 1037.7,408.3 1038.3,408.7 1038.9,408.3 1039.6,407.9 1040.2,409.1 1040.9,408.4 1041.5,408.5 1042.2,409.2 1042.8,408.3 1043.4,408.6 1044.1,408.8 1044.7,408.9 1045.4,407.5 1046.0,408.8 1046.7,409.4 1047.3,409.1 1047.9,408.9 1048.6,408.9 1049.2,408.8 1049.9,409.2 1050.5,408.6 1051.1,409.0 1051.8,409.4 1052.4,409.2 1053.1,409.1 1053.7,408.6 1054.4,408.8 1055.0,409.1 1055.6,409.0 1056.3,409.0 1056.9,408.3 1057.6,409.3 1058.2,408.9 1058.9,408.9 1059.5,409.5 1060.1,409.1 1060.8,409.1 1061.4,409.3 1062.1,409.0 1062.7,408.9 1063.3,408.8 1064.0,409.3 1064.6,409.2 1065.3,408.5 1065.9,409.7 1066.6,409.2 1067.2,409.0 1067.8,409.3 1068.5,409.1 1069.1,409.3 1069.8,409.1 1070.4,409.0 1071.1,409.5 1071.7,409.4 1072.3,409.5 1073.0,409.6 1073.6,409.5 1074.3,409.9 1074.9,409.3 1075.6,408.9 1076.2,409.0 1076.8,409.1 1077.5,409.9 1078.1,409.1 1078.8,409.8 1079.4,409.6 1080.0,409.0 1080.7,410.0 1081.3,409.4 1082.0,409.6 1082.6,409.7 1083.3,410.0 1083.9,409.5 1084.5,409.9 1085.2,409.4 1085.8,409.3 1086.5,410.2 1087.1,409.9 1087.8,409.9 1088.4,410.2 1089.0,410.1 1089.7,409.8 1090.3,409.9 1091.0,410.4 1091.6,410.0 1092.3,409.7 1092.9,410.2 1093.5,410.1 1094.2,409.3 1094.8,409.4 1095.5,410.4 1096.1,410.3 1096.7,409.8 1097.4,410.3 1098.0,410.0 1098.7,410.1 1099.3,409.7 1100.0,410.8 1100.6,410.7 1101.2,410.4 1101.9,409.6 1102.5,410.0 1103.2,410.5 1103.8,409.8 1104.5,409.8 1105.1,410.1 1105.7,410.1 1106.4,409.9 1107.0,409.6 1107.7,410.0 1108.3,409.9 1108.9,410.1 1109.6,410.2 1110.2,410.4 1110.9,410.0 1111.5,410.2 1112.2,410.2 1112.8,409.8 1113.4,410.0 1114.1,409.8 1114.7,410.6 1115.4,410.0 1116.0,410.3 1116.7,410.4 1117.3,410.4 1117.9,409.8 1118.6,409.9 1119.2,410.4 1119.9,410.5 1120.5,410.2 1121.2,410.3 1121.8,409.7 1122.4,410.7 1123.1,410.8 1123.7,410.3 1124.4,410.2 1125.0,410.2 1125.6,410.0 1126.3,409.6 1126.9,410.4 1127.6,410.4 1128.2,410.8 1128.9,410.2 1129.5,410.0 1130.1,410.4 1130.8,409.9 1131.4,410.3 1132.1,409.8 1132.7,410.2 1133.4,410.6 1134.0,410.5 1134.6,410.8 1135.3,410.9 1135.9,410.3 1136.6,410.1 1137.2,409.7 1137.9,410.4 1138.5,410.4 1139.1,410.7 1139.8,410.1 1140.4,410.3 1141.1,410.6 1141.7,410.2 1142.3,410.2 1143.0,411.0 1143.6,410.2 1144.3,410.4 1144.9,410.5 1145.6,410.5 1146.2,409.9" fill="none" stroke="#000000" stroke-width="3.2" stroke-linejoin="round"/>
<polyline points="632.4,406.2 633.9,406.1 635.5,407.2 637.0,407.0 638.6,406.5 640.1,407.1 641.6,407.1 643.2,407.1 644.7,405.7 646.3,405.7 647.8,405.9 649.4,406.1 650.9,406.3 652.4,406.1 654.0,405.7 655.5,405.9 657.1,405.3 658.6,405.8 660.1,405.8 661.7,405.0 663.2,405.2 664.8,405.0 666.3,405.5 667.9,406.0 669.4,405.0 670.9,405.2 672.5,404.5 674.0,405.3 675.6,405.4 677.1,404.3 678.6,403.9 680.2,404.1 681.7,404.4 683.3,403.6 684.8,404.2 686.3,403.9 687.9,403.7 689.4,403.3 691.0,402.7 692.5,402.9 694.1,402.3 695.6,402.2 697.1,403.1 698.7,402.8 700.2,402.2 701.8,401.9 703.3,401.5 704.8,402.1 706.4,400.7 707.9,400.3 709.5,400.6 711.0,401.0 712.6,400.2 714.1,399.9 715.6,399.1 717.2,399.0 718.7,398.4 720.3,398.4 721.8,397.6 723.3,399.0 724.9,398.2 726.4,397.0 728.0,397.3 729.5,396.1 731.0,396.4 732.6,395.5 734.1,395.4 735.7,394.7 737.2,393.7 738.8,393.3 740.3,392.6 741.8,390.7 743.4,391.3 744.9,391.3 746.5,389.5 748.0,388.5 749.5,387.4 751.1,386.5 752.6,387.3 754.2,385.4 755.7,384.3 757.3,384.1 758.8,383.7 760.3,384.9 761.9,382.1 763.4,379.3 765.0,380.6 766.5,378.9 768.0,376.8 769.6,375.0 771.1,373.5 772.7,374.7 774.2,372.4 775.8,370.4 777.3,370.7 778.8,368.3 780.4,365.0 781.9,364.0 783.5,364.2 785.0,365.7 786.5,362.5 788.1,360.3 789.6,359.5 791.2,357.5 792.7,353.5 794.2,355.2 795.8,355.3 797.3,353.1 798.9,352.3 800.4,351.2 802.0,349.6 803.5,347.7 805.0,347.3 806.6,347.8 808.1,345.8 809.7,344.1 811.2,343.8 812.7,341.3 814.3,340.9 815.8,341.9 817.4,339.5 818.9,336.5 820.5,336.2 822.0,337.3 823.5,336.2 825.1,337.4 826.6,337.5 828.2,334.6 829.7,333.7 831.2,332.9 832.8,332.8 834.3,332.0 835.9,332.0 837.4,330.2 838.9,329.0 840.5,329.1 842.0,328.3 843.6,330.4 845.1,328.5 846.7,324.5 848.2,323.1 849.7,324.4 851.3,324.8 852.8,325.2 854.4,322.5 855.9,321.3 857.4,322.9 859.0,320.0 860.5,318.7 862.1,318.4 863.6,319.3 865.2,317.3 866.7,317.9 868.2,313.9 869.8,314.5 871.3,315.1 872.9,311.2 874.4,310.4 875.9,311.3 877.5,307.9 879.0,310.3 880.6,308.2 882.1,306.7 883.6,309.4 885.2,305.1 886.7,304.6 888.3,304.1 889.8,304.0 891.4,302.5 892.9,305.6 894.4,307.3 896.0,308.6 897.5,310.7 899.1,310.0 900.6,315.4 902.1,317.8 903.7,319.6 905.2,321.5 906.8,323.2 908.3,326.2 909.9,330.6 911.4,333.9 912.9,336.2 914.5,338.2 916.0,341.5 917.6,346.3 919.1,350.2 920.6,349.0 922.2,352.4 923.7,356.2 925.3,359.1 926.8,362.7 928.3,365.7 929.9,367.6 931.4,369.8 933.0,372.5 934.5,375.3 936.1,376.3 937.6,377.5 939.1,380.1 940.7,382.0 942.2,384.9 943.8,385.4 945.3,386.7 946.8,389.0 948.4,390.6 949.9,390.6 951.5,392.1 953.0,392.7 954.6,394.1 956.1,394.6 957.6,396.2 959.2,397.7 960.7,397.8 962.3,398.4 963.8,398.7 965.3,399.9 966.9,400.4 968.4,400.3 970.0,400.6 971.5,401.3 973.0,401.7 974.6,402.4 976.1,402.7 977.7,403.0 979.2,403.6 980.8,404.1 982.3,404.2 983.8,403.7 985.4,404.8 986.9,405.4 988.5,405.7 990.0,405.8 991.5,406.0 993.1,406.8 994.6,407.2 996.2,406.7 997.7,407.3 999.3,406.9 1000.8,406.8 1002.3,406.6 1003.9,406.5 1005.4,407.2 1007.0,407.8 1008.5,408.2 1010.0,408.2 1011.6,408.1 1013.1,408.7 1014.7,408.2 1016.2,408.1 1017.8,408.1 1019.3,408.4 1020.8,408.5 1022.4,408.8 1023.9,409.0 1025.5,409.4 1027.0,408.8 1028.5,408.3 1030.1,408.8 1031.6,409.0 1033.2,409.3 1034.7,408.8 1036.2,409.3 1037.8,409.1 1039.3,409.3 1040.9,409.6 1042.4,409.2 1044.0,409.4 1045.5,409.5 1047.0,409.5 1048.6,409.7 1050.1,409.8 1051.7,409.7 1053.2,409.9 1054.7,409.9 1056.3,410.2 1057.8,410.5 1059.4,410.3 1060.9,410.2 1062.5,410.0 1064.0,409.9 1065.5,410.6 1067.1,410.4 1068.6,410.9 1070.2,410.7 1071.7,410.6 1073.2,411.1 1074.8,411.0 1076.3,410.5 1077.9,410.4 1079.4,410.5 1080.9,410.6 1082.5,410.0 1084.0,410.5 1085.6,410.7 1087.1,410.1 1088.7,410.4 1090.2,410.6 1091.7,410.4 1093.3,410.5 1094.8,410.5 1096.4,410.7 1097.9,411.0 1099.4,410.6 1101.0,410.8 1102.5,411.2 1104.1,411.1 1105.6,410.7 1107.2,410.9 1108.7,410.9 1110.2,410.8 1111.8,411.0 1113.3,411.4 1114.9,410.9 1116.4,410.7 1117.9,410.7 1119.5,410.5 1121.0,410.8 1122.6,410.8 1124.1,410.7 1125.6,411.0 1127.2,410.6 1128.7,410.6 1130.3,410.8 1131.8,410.6 1133.4,410.9 1134.9,411.3 1136.4,411.0 1138.0,411.1 1139.5,411.1 1141.1,411.1 1142.6,410.9 1144.1,411.1 1145.7,411.5" fill="none" stroke="#e87c1e" stroke-width="3.2" stroke-linejoin="round"/>
</g>
<text x="696.6" y="446.3" font-size="29" text-anchor="middle" fill="#111" stroke="#111">25</text>
<text x="825.1" y="446.3" font-size="29" text-anchor="middle" fill="#111" stroke="#111">26</text>
<text x="953.5" y="446.3" font-size="29" text-anchor="middle" fill="#111" stroke="#111">27</text>
<text x="1082.0" y="446.3" font-size="29" text-anchor="middle" fill="#111" stroke="#111">28</text>
<text x="816.5" y="499.4" font-size="39.5" textLength="147.2" lengthAdjust="spacing" fill="#111" stroke="#111">2<tspan font-family="Liberation Serif, serif">&#952;</tspan> (deg)</text>
<text transform="translate(611.9,390.5) rotate(-90)" x="0" y="0" font-size="39.3" fill="#111" stroke="#111">Instensity (arb. units)</text>
<line x1="636.7" y1="23.5" x2="704.4" y2="23.5" stroke="#22e622" stroke-width="3"/>
<text x="710.4" y="33.9" font-size="29.5" fill="#111" stroke="#111">S<tspan font-size="21" dy="8">30</tspan><tspan dy="-8"> 2.0&#176;</tspan></text>
<line x1="636.7" y1="65.9" x2="704.4" y2="65.9" stroke="#e0141e" stroke-width="3"/>
<text x="710.4" y="76.3" font-size="29.5" fill="#111" stroke="#111">S<tspan font-size="21" dy="8">30</tspan><tspan dy="-8"> 1.0&#176;</tspan></text>
<line x1="636.7" y1="108.3" x2="704.4" y2="108.3" stroke="#0a0acd" stroke-width="3"/>
<text x="710.4" y="118.7" font-size="29.5" fill="#111" stroke="#111">S<tspan font-size="21" dy="8">30</tspan><tspan dy="-8"> 0.6&#176;</tspan></text>
<line x1="636.7" y1="150.7" x2="704.4" y2="150.7" stroke="#000000" stroke-width="3"/>
<text x="710.4" y="161.1" font-size="29.5" fill="#111" stroke="#111">S<tspan font-size="21" dy="8">30</tspan><tspan dy="-8"> 0.3&#176;</tspan></text>
<line x1="636.7" y1="193.1" x2="704.4" y2="193.1" stroke="#e87c1e" stroke-width="3"/>
<text x="710.4" y="203.5" font-size="29.5" fill="#111" stroke="#111">S<tspan font-size="21" dy="8">30</tspan><tspan dy="-8"> 0.0&#176;</tspan></text>
<rect x="1207.5" y="2.2" width="516.1" height="416.6" fill="none" stroke="#111" stroke-width="2.2"/>
<path d="M1272.0,418.8v-8.5M1272.0,2.2v8.5M1336.5,418.8v-4M1336.5,2.2v4M1401.0,418.8v-8.5M1401.0,2.2v8.5M1465.5,418.8v-4M1465.5,2.2v4M1530.1,418.8v-8.5M1530.1,2.2v8.5M1594.6,418.8v-4M1594.6,2.2v4M1659.1,418.8v-8.5M1659.1,2.2v8.5M1207.5,380.2h3.8M1723.6,380.2h-3.8M1207.5,341.7h7.3M1723.6,341.7h-7.3M1207.5,303.1h3.8M1723.6,303.1h-3.8M1207.5,264.5h7.3M1723.6,264.5h-7.3M1207.5,226.0h3.8M1723.6,226.0h-3.8M1207.5,187.4h7.3M1723.6,187.4h-7.3M1207.5,148.8h3.8M1723.6,148.8h-3.8M1207.5,110.2h7.3M1723.6,110.2h-7.3M1207.5,71.7h3.8M1723.6,71.7h-3.8M1207.5,33.1h7.3M1723.6,33.1h-7.3" stroke="#111" stroke-width="2" fill="none"/>
<clipPath id="c3"><rect x="1207.5" y="2.2" width="516.0999999999999" height="419.6"/></clipPath>
<g clip-path="url(#c3)">
<polyline points="1207.5,414.4 1209.0,414.4 1210.6,414.7 1212.1,414.7 1213.7,414.7 1215.2,414.7 1216.8,414.4 1218.3,414.2 1219.9,414.0 1221.4,414.1 1223.0,414.1 1224.5,414.1 1226.1,414.1 1227.6,414.4 1229.2,414.3 1230.7,414.3 1232.3,414.4 1233.8,414.5 1235.4,414.5 1236.9,414.5 1238.5,414.6 1240.0,414.3 1241.6,414.3 1243.1,414.3 1244.7,414.2 1246.2,414.1 1247.8,414.4 1249.3,414.4 1250.9,414.7 1252.4,414.9 1253.9,414.7 1255.5,414.0 1257.0,414.5 1258.6,414.1 1260.1,413.8 1261.7,414.1 1263.2,413.7 1264.8,413.5 1266.3,413.6 1267.9,413.4 1269.4,413.8 1271.0,414.1 1272.5,413.9 1274.1,414.1 1275.6,414.3 1277.2,414.1 1278.7,413.4 1280.3,413.8 1281.8,413.8 1283.4,413.9 1284.9,413.7 1286.5,413.7 1288.0,413.7 1289.6,413.9 1291.1,413.9 1292.7,413.6 1294.2,413.2 1295.8,412.7 1297.3,412.8 1298.8,412.6 1300.4,412.9 1301.9,413.1 1303.5,413.3 1305.0,413.0 1306.6,413.3 1308.1,412.7 1309.7,412.1 1311.2,412.2 1312.8,412.0 1314.3,412.3 1315.9,412.5 1317.4,412.1 1319.0,411.8 1320.5,411.1 1322.1,410.8 1323.6,411.4 1325.2,411.2 1326.7,411.0 1328.3,410.9 1329.8,410.8 1331.4,410.2 1332.9,409.8 1334.5,409.7 1336.0,409.8 1337.6,409.4 1339.1,409.4 1340.7,408.5 1342.2,408.6 1343.8,408.1 1345.3,407.8 1346.8,407.5 1348.4,407.4 1349.9,407.0 1351.5,405.5 1353.0,405.3 1354.6,404.8 1356.1,403.8 1357.7,404.0 1359.2,403.4 1360.8,403.0 1362.3,402.0 1363.9,401.7 1365.4,401.3 1367.0,400.9 1368.5,400.0 1370.1,399.2 1371.6,399.7 1373.2,398.5 1374.7,397.7 1376.3,397.1 1377.8,396.9 1379.4,395.1 1380.9,394.8 1382.5,393.9 1384.0,393.3 1385.6,392.9 1387.1,391.7 1388.7,391.4 1390.2,390.0 1391.7,388.6 1393.3,387.4 1394.8,386.3 1396.4,385.2 1397.9,383.0 1399.5,382.9 1401.0,383.0 1402.6,381.8 1404.1,380.5 1405.7,379.1 1407.2,378.2 1408.8,376.8 1410.3,374.0 1411.9,373.5 1413.4,372.6 1415.0,371.1 1416.5,369.2 1418.1,366.4 1419.6,364.9 1421.2,363.4 1422.7,363.9 1424.3,359.5 1425.8,355.7 1427.4,352.5 1428.9,351.4 1430.5,349.7 1432.0,344.7 1433.6,341.8 1435.1,338.8 1436.6,333.1 1438.2,326.3 1439.7,320.5 1441.3,315.6 1442.8,310.6 1444.4,301.3 1445.9,297.2 1447.5,289.7 1449.0,282.4 1450.6,271.2 1452.1,262.6 1453.7,253.4 1455.2,245.0 1456.8,235.7 1458.3,226.3 1459.9,218.6 1461.4,205.2 1463.0,195.2 1464.5,187.8 1466.1,178.6 1467.6,169.2 1469.2,159.6 1470.7,154.3 1472.3,149.4 1473.8,145.5 1475.4,142.3 1476.9,136.0 1478.5,132.8 1480.0,139.2 1481.5,144.6 1483.1,150.2 1484.6,158.0 1486.2,166.7 1487.7,175.6 1489.3,186.3 1490.8,197.2 1492.4,208.3 1493.9,221.6 1495.5,230.1 1497.0,243.4 1498.6,252.7 1500.1,263.7 1501.7,273.5 1503.2,284.9 1504.8,295.5 1506.3,302.8 1507.9,312.0 1509.4,320.4 1511.0,327.8 1512.5,333.9 1514.1,340.4 1515.6,347.2 1517.2,354.0 1518.7,358.1 1520.3,361.6 1521.8,364.5 1523.4,369.0 1524.9,372.6 1526.4,375.0 1528.0,378.3 1529.5,380.8 1531.1,383.1 1532.6,385.7 1534.2,386.3 1535.7,388.0 1537.3,390.1 1538.8,391.8 1540.4,392.3 1541.9,392.9 1543.5,395.0 1545.0,396.3 1546.6,396.7 1548.1,398.5 1549.7,399.6 1551.2,399.7 1552.8,400.3 1554.3,400.9 1555.9,401.5 1557.4,401.9 1559.0,402.7 1560.5,403.4 1562.1,403.9 1563.6,403.9 1565.2,404.2 1566.7,404.7 1568.3,405.6 1569.8,407.3 1571.4,407.1 1572.9,407.1 1574.4,407.3 1576.0,408.1 1577.5,407.6 1579.1,408.1 1580.6,408.7 1582.2,408.9 1583.7,409.3 1585.3,409.6 1586.8,409.6 1588.4,410.1 1589.9,410.6 1591.5,410.6 1593.0,410.7 1594.6,411.0 1596.1,410.6 1597.7,411.2 1599.2,410.7 1600.8,411.1 1602.3,411.7 1603.9,411.6 1605.4,411.5 1607.0,412.0 1608.5,412.4 1610.1,412.1 1611.6,411.8 1613.2,412.6 1614.7,412.4 1616.3,412.5 1617.8,412.7 1619.3,412.8 1620.9,412.8 1622.4,412.6 1624.0,412.8 1625.5,413.1 1627.1,412.8 1628.6,413.3 1630.2,413.1 1631.7,413.1 1633.3,412.9 1634.8,413.1 1636.4,413.1 1637.9,413.3 1639.5,413.2 1641.0,413.2 1642.6,413.0 1644.1,413.6 1645.7,413.3 1647.2,413.5 1648.8,413.6 1650.3,413.8 1651.9,413.7 1653.4,414.2 1655.0,414.2 1656.5,413.8 1658.1,414.1 1659.6,413.6 1661.2,413.9 1662.7,413.9 1664.2,413.9 1665.8,413.9 1667.3,414.1 1668.9,414.1 1670.4,414.0 1672.0,413.8 1673.5,413.7 1675.1,413.7 1676.6,414.0 1678.2,414.2 1679.7,414.5 1681.3,414.1 1682.8,414.0 1684.4,414.2 1685.9,414.0 1687.5,413.9 1689.0,414.1 1690.6,414.0 1692.1,414.2 1693.7,414.7 1695.2,414.5 1696.8,414.4 1698.3,414.3 1699.9,414.5 1701.4,414.5 1703.0,414.6 1704.5,414.4 1706.1,414.3 1707.6,414.1 1709.1,414.2 1710.7,414.3 1712.2,414.4 1713.8,414.4 1715.3,414.4 1716.9,414.2 1718.4,415.0 1720.0,414.6 1721.5,414.4 1723.1,414.2" fill="none" stroke="#22e622" stroke-width="3.2" stroke-linejoin="round"/>
<polyline points="1207.5,415.3 1208.1,414.9 1208.8,414.8 1209.4,415.1 1210.1,415.4 1210.7,415.1 1211.4,415.3 1212.0,414.8 1212.7,415.2 1213.3,414.6 1214.0,414.9 1214.6,415.2 1215.2,415.1 1215.9,415.2 1216.5,414.9 1217.2,414.6 1217.8,415.0 1218.5,414.7 1219.1,415.2 1219.8,414.9 1220.4,414.4 1221.0,415.3 1221.7,414.6 1222.3,414.7 1223.0,415.4 1223.6,415.3 1224.3,415.1 1224.9,414.7 1225.6,415.0 1226.2,414.9 1226.9,414.7 1227.5,414.9 1228.1,414.8 1228.8,415.0 1229.4,414.6 1230.1,415.1 1230.7,414.5 1231.4,414.9 1232.0,415.0 1232.7,414.7 1233.3,414.7 1234.0,415.3 1234.6,414.8 1235.2,415.2 1235.9,415.0 1236.5,414.6 1237.2,415.0 1237.8,414.7 1238.5,414.9 1239.1,414.3 1239.8,414.8 1240.4,415.1 1241.0,415.0 1241.7,415.0 1242.3,414.7 1243.0,414.8 1243.6,414.5 1244.3,414.7 1244.9,414.7 1245.6,414.7 1246.2,414.8 1246.9,414.6 1247.5,414.5 1248.1,414.5 1248.8,414.8 1249.4,415.1 1250.1,414.9 1250.7,414.6 1251.4,415.3 1252.0,414.8 1252.7,414.5 1253.3,414.8 1253.9,414.9 1254.6,414.2 1255.2,414.3 1255.9,414.7 1256.5,414.3 1257.2,414.3 1257.8,414.8 1258.5,413.9 1259.1,414.8 1259.8,414.6 1260.4,414.8 1261.0,414.5 1261.7,414.8 1262.3,414.5 1263.0,414.2 1263.6,414.4 1264.3,414.5 1264.9,414.1 1265.6,414.6 1266.2,414.2 1266.9,414.5 1267.5,414.3 1268.1,414.4 1268.8,414.3 1269.4,414.3 1270.1,414.5 1270.7,414.4 1271.4,414.2 1272.0,414.3 1272.7,414.5 1273.3,414.4 1273.9,414.4 1274.6,414.2 1275.2,414.1 1275.9,414.1 1276.5,414.3 1277.2,414.1 1277.8,414.4 1278.5,414.8 1279.1,414.1 1279.8,414.5 1280.4,414.3 1281.0,414.3 1281.7,413.8 1282.3,414.2 1283.0,413.8 1283.6,414.0 1284.3,414.2 1284.9,414.2 1285.6,413.7 1286.2,413.7 1286.9,413.5 1287.5,413.2 1288.1,413.6 1288.8,413.6 1289.4,413.6 1290.1,413.5 1290.7,413.6 1291.4,413.7 1292.0,412.9 1292.7,413.9 1293.3,413.3 1293.9,413.2 1294.6,413.3 1295.2,413.5 1295.9,413.3 1296.5,413.3 1297.2,413.4 1297.8,413.1 1298.5,413.2 1299.1,413.2 1299.8,412.7 1300.4,413.2 1301.0,412.7 1301.7,413.0 1302.3,412.6 1303.0,412.7 1303.6,412.6 1304.3,412.9 1304.9,412.7 1305.6,412.7 1306.2,412.3 1306.8,412.1 1307.5,411.9 1308.1,412.3 1308.8,412.1 1309.4,412.5 1310.1,412.7 1310.7,412.2 1311.4,412.0 1312.0,412.2 1312.7,412.2 1313.3,411.4 1313.9,411.8 1314.6,412.0 1315.2,410.6 1315.9,411.2 1316.5,411.3 1317.2,410.9 1317.8,411.2 1318.5,410.4 1319.1,411.3 1319.8,411.1 1320.4,410.6 1321.0,410.8 1321.7,409.9 1322.3,410.8 1323.0,410.4 1323.6,410.0 1324.3,409.7 1324.9,409.5 1325.6,409.6 1326.2,408.8 1326.8,409.6 1327.5,409.3 1328.1,408.9 1328.8,409.2 1329.4,409.0 1330.1,409.0 1330.7,408.9 1331.4,409.0 1332.0,408.6 1332.7,408.8 1333.3,407.9 1333.9,408.6 1334.6,407.0 1335.2,406.9 1335.9,407.0 1336.5,407.4 1337.2,407.4 1337.8,406.5 1338.5,406.7 1339.1,406.4 1339.8,406.7 1340.4,405.8 1341.0,406.4 1341.7,405.8 1342.3,406.4 1343.0,405.8 1343.6,405.1 1344.3,405.3 1344.9,405.1 1345.6,404.3 1346.2,404.5 1346.8,403.7 1347.5,405.2 1348.1,403.6 1348.8,403.4 1349.4,404.1 1350.1,403.8 1350.7,402.5 1351.4,403.2 1352.0,402.8 1352.7,401.9 1353.3,402.1 1353.9,401.5 1354.6,401.9 1355.2,401.1 1355.9,400.4 1356.5,400.5 1357.2,401.5 1357.8,399.8 1358.5,399.8 1359.1,400.1 1359.7,398.6 1360.4,400.0 1361.0,397.7 1361.7,398.8 1362.3,397.3 1363.0,397.9 1363.6,398.3 1364.3,397.2 1364.9,396.8 1365.6,396.3 1366.2,395.7 1366.8,396.5 1367.5,395.4 1368.1,395.0 1368.8,395.2 1369.4,395.3 1370.1,395.0 1370.7,393.6 1371.4,393.2 1372.0,393.9 1372.7,393.8 1373.3,391.9 1373.9,393.3 1374.6,391.9 1375.2,392.1 1375.9,392.4 1376.5,390.8 1377.2,390.6 1377.8,389.2 1378.5,388.3 1379.1,389.5 1379.7,388.4 1380.4,388.0 1381.0,388.6 1381.7,388.5 1382.3,386.4 1383.0,387.3 1383.6,386.7 1384.3,386.5 1384.9,386.0 1385.6,385.9 1386.2,384.6 1386.8,383.8 1387.5,384.5 1388.1,384.8 1388.8,383.4 1389.4,384.1 1390.1,383.1 1390.7,381.3 1391.4,380.1 1392.0,381.1 1392.7,381.7 1393.3,379.9 1393.9,381.7 1394.6,380.2 1395.2,378.1 1395.9,378.2 1396.5,379.4 1397.2,379.1 1397.8,376.8 1398.5,377.0 1399.1,377.0 1399.7,375.8 1400.4,376.1 1401.0,376.7 1401.7,374.1 1402.3,374.8 1403.0,374.6 1403.6,374.4 1404.3,372.6 1404.9,373.0 1405.6,371.4 1406.2,371.6 1406.8,370.0 1407.5,370.7 1408.1,370.4 1408.8,371.0 1409.4,369.8 1410.1,367.7 1410.7,365.2 1411.4,368.3 1412.0,367.6 1412.6,365.8 1413.3,365.1 1413.9,365.6 1414.6,364.3 1415.2,365.2 1415.9,363.4 1416.5,361.7 1417.2,360.3 1417.8,361.3 1418.5,360.6 1419.1,359.2 1419.7,357.9 1420.4,357.6 1421.0,358.0 1421.7,356.1 1422.3,354.6 1423.0,355.2 1423.6,354.9 1424.3,352.1 1424.9,351.1 1425.6,349.4 1426.2,349.1 1426.8,348.6 1427.5,347.1 1428.1,346.3 1428.8,344.8 1429.4,342.9 1430.1,341.3 1430.7,337.9 1431.4,338.6 1432.0,335.5 1432.6,334.2 1433.3,329.8 1433.9,329.0 1434.6,327.5 1435.2,323.8 1435.9,322.1 1436.5,320.2 1437.2,315.0 1437.8,313.1 1438.5,308.8 1439.1,306.3 1439.7,303.5 1440.4,300.9 1441.0,298.9 1441.7,292.8 1442.3,289.7 1443.0,284.8 1443.6,281.5 1444.3,278.1 1444.9,274.0 1445.6,266.8 1446.2,261.0 1446.8,258.4 1447.5,252.0 1448.1,245.2 1448.8,243.1 1449.4,236.7 1450.1,232.1 1450.7,222.4 1451.4,217.8 1452.0,212.8 1452.6,208.5 1453.3,199.4 1453.9,190.7 1454.6,186.3 1455.2,179.8 1455.9,170.9 1456.5,167.5 1457.2,158.1 1457.8,149.9 1458.5,145.6 1459.1,138.6 1459.7,129.4 1460.4,123.0 1461.0,116.3 1461.7,108.4 1462.3,101.5 1463.0,97.1 1463.6,89.9 1464.3,81.0 1464.9,73.1 1465.5,66.4 1466.2,65.3 1466.8,55.2 1467.5,50.4 1468.1,47.0 1468.8,40.9 1469.4,35.5 1470.1,29.0 1470.7,31.8 1471.4,24.4 1472.0,23.0 1472.6,20.5 1473.3,15.0 1473.9,13.9 1474.6,16.8 1475.2,14.1 1475.9,12.8 1476.5,17.9 1477.2,14.0 1477.8,18.1 1478.5,19.7 1479.1,21.8 1479.7,21.2 1480.4,28.5 1481.0,32.9 1481.7,31.8 1482.3,41.0 1483.0,45.3 1483.6,51.8 1484.3,51.0 1484.9,57.9 1485.5,62.6 1486.2,68.8 1486.8,75.0 1487.5,82.2 1488.1,88.1 1488.8,91.5 1489.4,98.4 1490.1,101.5 1490.7,112.9 1491.4,118.7 1492.0,126.3 1492.6,128.0 1493.3,139.8 1493.9,142.5 1494.6,147.8 1495.2,157.5 1495.9,162.5 1496.5,174.4 1497.2,177.7 1497.8,186.6 1498.5,189.7 1499.1,196.4 1499.7,204.1 1500.4,207.4 1501.0,214.6 1501.7,222.2 1502.3,228.2 1503.0,235.6 1503.6,239.3 1504.3,241.4 1504.9,251.4 1505.5,255.1 1506.2,261.9 1506.8,265.2 1507.5,270.8 1508.1,276.7 1508.8,283.7 1509.4,286.6 1510.1,288.9 1510.7,295.3 1511.4,298.5 1512.0,304.1 1512.6,309.8 1513.3,310.9 1513.9,314.8 1514.6,319.6 1515.2,322.9 1515.9,325.5 1516.5,329.8 1517.2,331.9 1517.8,335.6 1518.5,340.8 1519.1,341.3 1519.7,344.4 1520.4,347.3 1521.0,348.5 1521.7,351.8 1522.3,353.1 1523.0,354.8 1523.6,357.8 1524.3,361.4 1524.9,362.6 1525.5,362.9 1526.2,365.7 1526.8,367.9 1527.5,368.9 1528.1,370.0 1528.8,371.6 1529.4,372.8 1530.1,375.3 1530.7,376.1 1531.4,377.3 1532.0,378.3 1532.6,381.0 1533.3,380.7 1533.9,382.5 1534.6,381.5 1535.2,382.4 1535.9,383.2 1536.5,384.7 1537.2,386.4 1537.8,386.2 1538.4,387.8 1539.1,388.0 1539.7,389.6 1540.4,390.1 1541.0,390.1 1541.7,389.9 1542.3,391.6 1543.0,390.8 1543.6,391.0 1544.3,394.0 1544.9,393.8 1545.5,394.8 1546.2,394.8 1546.8,395.5 1547.5,395.7 1548.1,395.5 1548.8,395.9 1549.4,396.7 1550.1,397.3 1550.7,397.6 1551.4,397.9 1552.0,398.1 1552.6,398.7 1553.3,398.8 1553.9,400.1 1554.6,399.3 1555.2,399.1 1555.9,400.2 1556.5,401.3 1557.2,400.2 1557.8,401.4 1558.4,402.9 1559.1,401.9 1559.7,401.7 1560.4,402.1 1561.0,401.9 1561.7,402.5 1562.3,402.9 1563.0,404.2 1563.6,404.0 1564.3,403.6 1564.9,403.6 1565.5,404.6 1566.2,404.6 1566.8,404.3 1567.5,405.6 1568.1,405.8 1568.8,405.2 1569.4,405.2 1570.1,405.7 1570.7,406.7 1571.4,405.8 1572.0,406.6 1572.6,405.9 1573.3,406.4 1573.9,406.4 1574.6,406.4 1575.2,407.1 1575.9,406.7 1576.5,406.6 1577.2,407.1 1577.8,406.9 1578.4,407.8 1579.1,407.3 1579.7,407.7 1580.4,408.4 1581.0,408.1 1581.7,408.4 1582.3,408.6 1583.0,408.4 1583.6,408.2 1584.3,408.8 1584.9,408.8 1585.5,409.5 1586.2,409.0 1586.8,408.7 1587.5,409.0 1588.1,409.2 1588.8,409.6 1589.4,409.9 1590.1,409.7 1590.7,410.2 1591.3,410.3 1592.0,409.6 1592.6,410.3 1593.3,409.5 1593.9,410.7 1594.6,410.1 1595.2,410.8 1595.9,410.4 1596.5,410.9 1597.2,410.6 1597.8,410.7 1598.4,410.9 1599.1,410.6 1599.7,410.4 1600.4,411.1 1601.0,410.7 1601.7,411.1 1602.3,411.2 1603.0,410.5 1603.6,412.0 1604.3,411.6 1604.9,412.0 1605.5,411.5 1606.2,411.6 1606.8,410.3 1607.5,411.5 1608.1,411.1 1608.8,411.3 1609.4,411.9 1610.1,411.7 1610.7,411.4 1611.3,411.9 1612.0,411.9 1612.6,411.9 1613.3,412.5 1613.9,412.4 1614.6,412.0 1615.2,412.0 1615.9,412.5 1616.5,412.4 1617.2,412.4 1617.8,412.4 1618.4,412.2 1619.1,412.4 1619.7,412.4 1620.4,412.9 1621.0,412.9 1621.7,412.5 1622.3,413.1 1623.0,412.6 1623.6,412.9 1624.3,412.9 1624.9,412.6 1625.5,413.0 1626.2,413.1 1626.8,413.0 1627.5,412.9 1628.1,412.1 1628.8,413.5 1629.4,413.0 1630.1,413.1 1630.7,412.7 1631.3,413.1 1632.0,413.8 1632.6,412.7 1633.3,413.4 1633.9,413.2 1634.6,413.5 1635.2,413.5 1635.9,413.3 1636.5,413.0 1637.2,413.0 1637.8,413.4 1638.4,413.2 1639.1,413.4 1639.7,413.3 1640.4,413.3 1641.0,413.2 1641.7,413.6 1642.3,413.5 1643.0,413.4 1643.6,413.4 1644.2,413.7 1644.9,413.0 1645.5,413.6 1646.2,413.3 1646.8,413.5 1647.5,413.2 1648.1,414.2 1648.8,413.1 1649.4,413.7 1650.1,414.0 1650.7,413.6 1651.3,413.1 1652.0,413.6 1652.6,414.0 1653.3,413.9 1653.9,413.4 1654.6,414.1 1655.2,413.8 1655.9,413.9 1656.5,413.2 1657.2,413.9 1657.8,413.5 1658.4,414.0 1659.1,414.1 1659.7,413.6 1660.4,413.7 1661.0,414.4 1661.7,413.7 1662.3,413.8 1663.0,414.1 1663.6,413.9 1664.2,413.9 1664.9,414.1 1665.5,414.1 1666.2,414.2 1666.8,414.1 1667.5,414.4 1668.1,414.0 1668.8,414.4 1669.4,414.0 1670.1,414.1 1670.7,414.3 1671.3,413.9 1672.0,413.6 1672.6,413.8 1673.3,414.5 1673.9,413.8 1674.6,414.1 1675.2,414.2 1675.9,414.3 1676.5,414.2 1677.2,413.8 1677.8,414.1 1678.4,414.3 1679.1,414.4 1679.7,414.3 1680.4,414.1 1681.0,413.8 1681.7,414.5 1682.3,414.3 1683.0,414.4 1683.6,414.5 1684.2,414.2 1684.9,414.2 1685.5,414.7 1686.2,414.6 1686.8,414.0 1687.5,414.3 1688.1,414.2 1688.8,414.5 1689.4,414.5 1690.1,414.2 1690.7,414.5 1691.3,414.7 1692.0,414.4 1692.6,414.2 1693.3,414.7 1693.9,414.1 1694.6,414.2 1695.2,414.6 1695.9,414.4 1696.5,414.5 1697.1,414.3 1697.8,414.3 1698.4,414.8 1699.1,414.8 1699.7,414.2 1700.4,414.5 1701.0,414.4 1701.7,414.4 1702.3,414.1 1703.0,414.8 1703.6,414.3 1704.2,414.7 1704.9,414.4 1705.5,414.2 1706.2,414.9 1706.8,414.5 1707.5,414.6 1708.1,414.6 1708.8,414.6 1709.4,414.8 1710.1,414.8 1710.7,414.4 1711.3,414.4 1712.0,414.7 1712.6,415.0 1713.3,414.1 1713.9,414.4 1714.6,414.5 1715.2,414.9 1715.9,414.8 1716.5,414.6 1717.1,414.9 1717.8,414.3 1718.4,414.6 1719.1,414.6 1719.7,414.9 1720.4,414.9 1721.0,414.9 1721.7,414.6 1722.3,414.8 1723.0,414.8 1723.6,414.6" fill="none" stroke="#e0141e" stroke-width="3.2" stroke-linejoin="round"/>
<polyline points="1207.5,413.6 1208.0,413.1 1208.5,413.7 1209.0,414.0 1209.6,413.7 1210.1,413.1 1210.6,413.9 1211.1,413.6 1211.6,413.8 1212.1,413.5 1212.7,413.5 1213.2,413.9 1213.7,413.7 1214.2,413.3 1214.7,413.2 1215.2,413.2 1215.8,413.3 1216.3,413.7 1216.8,413.7 1217.3,413.2 1217.8,414.0 1218.3,413.6 1218.9,414.3 1219.4,413.7 1219.9,413.8 1220.4,414.0 1220.9,413.3 1221.4,413.8 1222.0,413.6 1222.5,413.6 1223.0,413.8 1223.5,412.9 1224.0,413.7 1224.5,413.4 1225.0,413.9 1225.6,413.6 1226.1,413.6 1226.6,413.5 1227.1,413.6 1227.6,413.3 1228.1,412.8 1228.7,413.4 1229.2,413.4 1229.7,413.5 1230.2,412.4 1230.7,412.7 1231.2,413.1 1231.8,413.0 1232.3,413.6 1232.8,413.3 1233.3,413.2 1233.8,413.2 1234.3,413.6 1234.9,413.5 1235.4,413.0 1235.9,413.1 1236.4,414.0 1236.9,413.1 1237.4,412.7 1237.9,413.4 1238.5,413.0 1239.0,413.7 1239.5,412.8 1240.0,413.5 1240.5,413.6 1241.0,413.2 1241.6,412.1 1242.1,413.3 1242.6,413.5 1243.1,412.8 1243.6,412.9 1244.1,412.3 1244.7,413.4 1245.2,413.6 1245.7,413.0 1246.2,412.7 1246.7,412.7 1247.2,412.4 1247.8,413.4 1248.3,413.1 1248.8,412.8 1249.3,412.4 1249.8,412.5 1250.3,412.9 1250.9,413.1 1251.4,412.3 1251.9,412.2 1252.4,411.5 1252.9,412.6 1253.4,411.9 1253.9,413.0 1254.5,412.7 1255.0,412.7 1255.5,412.6 1256.0,412.8 1256.5,412.6 1257.0,412.4 1257.6,412.5 1258.1,412.0 1258.6,412.3 1259.1,412.2 1259.6,411.6 1260.1,412.0 1260.7,412.1 1261.2,412.1 1261.7,412.0 1262.2,411.8 1262.7,412.3 1263.2,411.5 1263.8,411.2 1264.3,411.4 1264.8,412.1 1265.3,412.5 1265.8,412.0 1266.3,411.7 1266.9,411.3 1267.4,411.7 1267.9,411.7 1268.4,410.9 1268.9,411.8 1269.4,411.0 1269.9,411.0 1270.5,412.0 1271.0,411.2 1271.5,411.5 1272.0,411.7 1272.5,412.0 1273.0,411.8 1273.6,410.9 1274.1,411.2 1274.6,410.8 1275.1,411.4 1275.6,411.0 1276.1,410.9 1276.7,411.5 1277.2,411.5 1277.7,410.4 1278.2,410.5 1278.7,411.0 1279.2,410.5 1279.8,410.1 1280.3,409.5 1280.8,410.7 1281.3,409.9 1281.8,409.1 1282.3,410.0 1282.9,409.3 1283.4,411.2 1283.9,409.2 1284.4,409.8 1284.9,410.7 1285.4,409.3 1285.9,409.1 1286.5,408.9 1287.0,408.8 1287.5,409.4 1288.0,409.7 1288.5,409.4 1289.0,409.1 1289.6,408.8 1290.1,409.2 1290.6,408.8 1291.1,408.3 1291.6,408.5 1292.1,407.4 1292.7,407.4 1293.2,409.0 1293.7,408.6 1294.2,409.0 1294.7,408.8 1295.2,407.8 1295.8,408.5 1296.3,408.4 1296.8,407.9 1297.3,407.2 1297.8,407.8 1298.3,407.7 1298.8,406.8 1299.4,407.0 1299.9,406.9 1300.4,406.5 1300.9,407.5 1301.4,406.7 1301.9,407.1 1302.5,406.0 1303.0,406.0 1303.5,407.0 1304.0,405.5 1304.5,406.8 1305.0,405.3 1305.6,405.8 1306.1,406.3 1306.6,406.3 1307.1,405.7 1307.6,405.4 1308.1,405.7 1308.7,404.8 1309.2,405.8 1309.7,404.9 1310.2,404.7 1310.7,405.7 1311.2,404.2 1311.8,405.1 1312.3,405.7 1312.8,404.4 1313.3,404.0 1313.8,403.1 1314.3,403.9 1314.8,402.5 1315.4,402.3 1315.9,402.4 1316.4,402.1 1316.9,402.6 1317.4,403.0 1317.9,402.1 1318.5,401.7 1319.0,402.0 1319.5,402.2 1320.0,402.9 1320.5,401.2 1321.0,401.3 1321.6,402.2 1322.1,401.1 1322.6,400.5 1323.1,400.9 1323.6,400.1 1324.1,399.9 1324.7,401.3 1325.2,400.3 1325.7,399.6 1326.2,399.1 1326.7,398.5 1327.2,400.8 1327.8,399.2 1328.3,398.5 1328.8,397.9 1329.3,397.3 1329.8,399.1 1330.3,398.5 1330.8,398.8 1331.4,397.2 1331.9,398.6 1332.4,396.5 1332.9,396.5 1333.4,396.6 1333.9,398.5 1334.5,397.1 1335.0,395.8 1335.5,397.3 1336.0,396.1 1336.5,395.8 1337.0,394.8 1337.6,395.1 1338.1,394.8 1338.6,395.2 1339.1,394.6 1339.6,394.5 1340.1,393.6 1340.7,394.1 1341.2,392.9 1341.7,394.9 1342.2,392.2 1342.7,393.2 1343.2,391.8 1343.8,392.5 1344.3,391.6 1344.8,390.8 1345.3,392.3 1345.8,391.5 1346.3,391.5 1346.8,390.9 1347.4,392.3 1347.9,390.8 1348.4,390.6 1348.9,390.8 1349.4,390.1 1349.9,391.0 1350.5,388.1 1351.0,388.7 1351.5,387.2 1352.0,389.4 1352.5,389.4 1353.0,387.8 1353.6,389.4 1354.1,387.4 1354.6,388.0 1355.1,387.4 1355.6,386.6 1356.1,386.5 1356.7,384.5 1357.2,385.4 1357.7,387.0 1358.2,384.5 1358.7,386.5 1359.2,384.9 1359.7,385.9 1360.3,385.2 1360.8,382.9 1361.3,384.4 1361.8,384.2 1362.3,383.9 1362.8,383.4 1363.4,381.3 1363.9,383.7 1364.4,383.5 1364.9,381.4 1365.4,383.3 1365.9,381.8 1366.5,380.0 1367.0,380.9 1367.5,381.1 1368.0,381.1 1368.5,381.0 1369.0,380.4 1369.6,379.3 1370.1,377.9 1370.6,377.9 1371.1,379.2 1371.6,379.1 1372.1,377.4 1372.7,379.8 1373.2,378.0 1373.7,377.6 1374.2,378.2 1374.7,377.8 1375.2,376.0 1375.7,377.9 1376.3,376.9 1376.8,376.3 1377.3,375.2 1377.8,376.5 1378.3,373.5 1378.8,374.8 1379.4,374.5 1379.9,374.3 1380.4,374.4 1380.9,374.5 1381.4,371.8 1381.9,372.6 1382.5,372.6 1383.0,371.1 1383.5,372.8 1384.0,371.0 1384.5,371.4 1385.0,372.1 1385.6,370.0 1386.1,372.3 1386.6,369.5 1387.1,371.0 1387.6,369.3 1388.1,367.8 1388.7,368.5 1389.2,369.6 1389.7,368.7 1390.2,368.8 1390.7,369.5 1391.2,369.1 1391.7,367.5 1392.3,366.6 1392.8,369.1 1393.3,366.8 1393.8,365.8 1394.3,366.0 1394.8,367.0 1395.4,364.3 1395.9,366.7 1396.4,364.2 1396.9,362.7 1397.4,366.9 1397.9,363.8 1398.5,363.4 1399.0,363.3 1399.5,364.2 1400.0,363.3 1400.5,364.4 1401.0,362.2 1401.6,361.4 1402.1,362.6 1402.6,362.6 1403.1,361.7 1403.6,360.8 1404.1,360.4 1404.7,360.2 1405.2,359.7 1405.7,361.1 1406.2,362.6 1406.7,357.9 1407.2,356.5 1407.7,359.8 1408.3,358.5 1408.8,356.9 1409.3,355.6 1409.8,355.6 1410.3,354.4 1410.8,355.7 1411.4,354.7 1411.9,354.2 1412.4,354.9 1412.9,352.2 1413.4,352.5 1413.9,351.6 1414.5,352.9 1415.0,350.4 1415.5,352.7 1416.0,350.2 1416.5,353.8 1417.0,351.0 1417.6,348.0 1418.1,349.0 1418.6,347.5 1419.1,349.3 1419.6,344.2 1420.1,344.8 1420.6,344.9 1421.2,343.5 1421.7,342.9 1422.2,340.5 1422.7,341.4 1423.2,343.0 1423.7,340.3 1424.3,337.1 1424.8,337.2 1425.3,337.7 1425.8,335.1 1426.3,334.8 1426.8,333.0 1427.4,335.2 1427.9,333.0 1428.4,329.4 1428.9,329.5 1429.4,327.4 1429.9,323.5 1430.5,325.8 1431.0,323.5 1431.5,323.4 1432.0,322.0 1432.5,319.6 1433.0,320.4 1433.6,319.9 1434.1,312.4 1434.6,313.2 1435.1,309.4 1435.6,309.4 1436.1,307.5 1436.6,304.7 1437.2,302.8 1437.7,304.2 1438.2,297.9 1438.7,299.9 1439.2,295.7 1439.7,289.2 1440.3,291.7 1440.8,286.5 1441.3,288.1 1441.8,284.0 1442.3,282.7 1442.8,279.7 1443.4,279.8 1443.9,277.6 1444.4,272.6 1444.9,274.0 1445.4,270.0 1445.9,264.5 1446.5,264.5 1447.0,262.5 1447.5,260.4 1448.0,255.1 1448.5,253.6 1449.0,249.8 1449.6,247.9 1450.1,240.7 1450.6,243.0 1451.1,243.7 1451.6,236.4 1452.1,233.9 1452.6,230.9 1453.2,232.2 1453.7,223.2 1454.2,223.2 1454.7,220.6 1455.2,221.6 1455.7,214.1 1456.3,212.8 1456.8,206.8 1457.3,208.5 1457.8,208.0 1458.3,202.3 1458.8,202.4 1459.4,196.8 1459.9,198.2 1460.4,193.6 1460.9,191.6 1461.4,189.0 1461.9,188.2 1462.5,187.0 1463.0,183.2 1463.5,182.7 1464.0,179.1 1464.5,178.6 1465.0,182.1 1465.6,175.1 1466.1,170.0 1466.6,171.6 1467.1,169.7 1467.6,169.0 1468.1,170.5 1468.6,172.0 1469.2,165.7 1469.7,164.5 1470.2,165.3 1470.7,165.4 1471.2,165.2 1471.7,166.9 1472.3,166.8 1472.8,168.4 1473.3,168.6 1473.8,173.0 1474.3,173.4 1474.8,171.7 1475.4,175.4 1475.9,182.3 1476.4,177.5 1476.9,185.4 1477.4,176.8 1477.9,181.8 1478.5,184.0 1479.0,189.5 1479.5,192.9 1480.0,193.1 1480.5,194.9 1481.0,199.4 1481.5,199.7 1482.1,201.2 1482.6,204.1 1483.1,210.8 1483.6,216.2 1484.1,214.1 1484.6,218.5 1485.2,219.0 1485.7,219.3 1486.2,222.3 1486.7,228.5 1487.2,229.8 1487.7,231.7 1488.3,238.4 1488.8,241.0 1489.3,242.9 1489.8,248.0 1490.3,252.1 1490.8,255.8 1491.4,257.4 1491.9,261.8 1492.4,262.0 1492.9,267.4 1493.4,267.0 1493.9,270.6 1494.5,278.4 1495.0,276.9 1495.5,282.8 1496.0,282.4 1496.5,287.0 1497.0,290.9 1497.5,292.5 1498.1,297.5 1498.6,298.7 1499.1,301.4 1499.6,305.0 1500.1,306.8 1500.6,311.8 1501.2,311.8 1501.7,317.2 1502.2,316.7 1502.7,319.4 1503.2,321.4 1503.7,325.8 1504.3,322.5 1504.8,329.8 1505.3,331.4 1505.8,334.9 1506.3,333.8 1506.8,338.7 1507.4,338.6 1507.9,343.3 1508.4,343.4 1508.9,346.2 1509.4,346.3 1509.9,349.7 1510.5,352.2 1511.0,352.1 1511.5,355.9 1512.0,357.1 1512.5,356.5 1513.0,361.3 1513.5,359.5 1514.1,362.3 1514.6,364.3 1515.1,364.2 1515.6,365.0 1516.1,367.7 1516.6,368.4 1517.2,368.5 1517.7,369.7 1518.2,371.7 1518.7,373.5 1519.2,374.7 1519.7,375.3 1520.3,375.0 1520.8,376.0 1521.3,377.2 1521.8,377.0 1522.3,379.5 1522.8,380.4 1523.4,381.2 1523.9,379.7 1524.4,384.3 1524.9,382.7 1525.4,383.3 1525.9,384.3 1526.4,382.9 1527.0,384.6 1527.5,385.6 1528.0,387.6 1528.5,387.0 1529.0,388.3 1529.5,388.4 1530.1,388.8 1530.6,389.9 1531.1,389.4 1531.6,389.1 1532.1,390.0 1532.6,391.2 1533.2,393.4 1533.7,391.3 1534.2,391.7 1534.7,393.1 1535.2,393.7 1535.7,393.2 1536.3,394.7 1536.8,393.8 1537.3,395.6 1537.8,395.8 1538.3,395.4 1538.8,396.9 1539.4,396.1 1539.9,396.0 1540.4,397.6 1540.9,396.3 1541.4,397.6 1541.9,397.1 1542.4,397.6 1543.0,398.3 1543.5,398.7 1544.0,399.7 1544.5,399.3 1545.0,399.6 1545.5,398.1 1546.1,398.8 1546.6,400.6 1547.1,399.4 1547.6,400.0 1548.1,400.6 1548.6,400.2 1549.2,400.2 1549.7,401.3 1550.2,401.3 1550.7,401.3 1551.2,402.2 1551.7,401.6 1552.3,402.0 1552.8,402.5 1553.3,402.8 1553.8,402.3 1554.3,402.1 1554.8,402.6 1555.4,403.5 1555.9,402.7 1556.4,403.2 1556.9,403.1 1557.4,402.9 1557.9,404.3 1558.4,404.0 1559.0,404.4 1559.5,404.7 1560.0,403.2 1560.5,404.0 1561.0,405.7 1561.5,404.5 1562.1,405.3 1562.6,404.4 1563.1,405.1 1563.6,405.4 1564.1,405.4 1564.6,405.4 1565.2,405.7 1565.7,406.0 1566.2,406.0 1566.7,405.8 1567.2,406.8 1567.7,406.3 1568.3,406.5 1568.8,406.8 1569.3,406.2 1569.8,407.5 1570.3,407.1 1570.8,407.4 1571.4,406.8 1571.9,407.4 1572.4,407.3 1572.9,407.2 1573.4,408.3 1573.9,407.3 1574.4,408.1 1575.0,407.9 1575.5,407.9 1576.0,407.5 1576.5,407.7 1577.0,407.2 1577.5,408.1 1578.1,408.6 1578.6,408.7 1579.1,408.2 1579.6,407.8 1580.1,408.5 1580.6,409.0 1581.2,408.7 1581.7,408.8 1582.2,408.9 1582.7,409.4 1583.2,410.4 1583.7,409.4 1584.3,408.7 1584.8,409.2 1585.3,410.5 1585.8,409.5 1586.3,410.4 1586.8,408.6 1587.3,409.6 1587.9,410.3 1588.4,409.4 1588.9,410.2 1589.4,409.7 1589.9,410.0 1590.4,410.6 1591.0,409.8 1591.5,410.8 1592.0,409.6 1592.5,410.2 1593.0,410.8 1593.5,411.2 1594.1,409.7 1594.6,409.8 1595.1,411.1 1595.6,409.8 1596.1,410.6 1596.6,410.8 1597.2,410.8 1597.7,410.9 1598.2,410.2 1598.7,410.8 1599.2,411.7 1599.7,410.0 1600.3,410.6 1600.8,411.5 1601.3,411.2 1601.8,411.5 1602.3,411.1 1602.8,411.0 1603.3,411.1 1603.9,411.5 1604.4,411.7 1604.9,411.0 1605.4,411.4 1605.9,410.5 1606.4,411.8 1607.0,411.2 1607.5,411.5 1608.0,411.9 1608.5,411.0 1609.0,411.6 1609.5,412.1 1610.1,411.8 1610.6,411.3 1611.1,412.3 1611.6,411.2 1612.1,411.5 1612.6,412.0 1613.2,411.3 1613.7,411.2 1614.2,411.7 1614.7,411.9 1615.2,411.2 1615.7,411.4 1616.3,412.4 1616.8,412.2 1617.3,412.2 1617.8,412.3 1618.3,412.8 1618.8,411.8 1619.3,412.2 1619.9,412.2 1620.4,411.7 1620.9,412.5 1621.4,412.3 1621.9,412.2 1622.4,412.5 1623.0,412.4 1623.5,412.1 1624.0,412.4 1624.5,411.9 1625.0,412.7 1625.5,412.4 1626.1,413.0 1626.6,412.5 1627.1,412.8 1627.6,412.0 1628.1,412.3 1628.6,412.4 1629.2,411.9 1629.7,412.0 1630.2,412.3 1630.7,412.9 1631.2,413.2 1631.7,412.7 1632.3,412.8 1632.8,413.0 1633.3,412.8 1633.8,413.4 1634.3,412.2 1634.8,413.2 1635.3,413.0 1635.9,412.6 1636.4,413.4 1636.9,412.5 1637.4,412.5 1637.9,413.0 1638.4,413.3 1639.0,413.0 1639.5,413.6 1640.0,412.4 1640.5,412.9 1641.0,413.2 1641.5,413.3 1642.1,412.7 1642.6,412.4 1643.1,413.4 1643.6,413.2 1644.1,413.7 1644.6,412.7 1645.2,412.9 1645.7,412.2 1646.2,413.1 1646.7,413.2 1647.2,413.3 1647.7,412.7 1648.2,413.7 1648.8,412.8 1649.3,413.0 1649.8,413.3 1650.3,413.4 1650.8,412.7 1651.3,412.4 1651.9,413.3 1652.4,412.9 1652.9,412.5 1653.4,413.4 1653.9,413.3 1654.4,413.6 1655.0,413.2 1655.5,413.2 1656.0,413.4 1656.5,413.5 1657.0,413.8 1657.5,413.7 1658.1,413.6 1658.6,413.0 1659.1,413.4 1659.6,413.6 1660.1,413.0 1660.6,413.0 1661.2,413.6 1661.7,413.5 1662.2,413.0 1662.7,413.2 1663.2,413.6 1663.7,413.2 1664.2,413.3 1664.8,412.9 1665.3,413.6 1665.8,413.0 1666.3,413.2 1666.8,413.7 1667.3,412.9 1667.9,413.0 1668.4,413.8 1668.9,412.6 1669.4,413.8 1669.9,413.7 1670.4,413.5 1671.0,413.1 1671.5,413.2 1672.0,413.4 1672.5,412.9 1673.0,413.3 1673.5,412.9 1674.1,412.4 1674.6,413.3 1675.1,414.4 1675.6,413.6 1676.1,413.8 1676.6,413.4 1677.2,413.4 1677.7,413.9 1678.2,413.9 1678.7,413.6 1679.2,413.5 1679.7,414.4 1680.2,413.1 1680.8,413.5 1681.3,413.5 1681.8,413.4 1682.3,413.9 1682.8,413.5 1683.3,413.1 1683.9,413.1 1684.4,413.3 1684.9,413.6 1685.4,413.8 1685.9,413.0 1686.4,413.3 1687.0,413.7 1687.5,414.3 1688.0,413.9 1688.5,414.3 1689.0,413.1 1689.5,413.5 1690.1,413.8 1690.6,413.7 1691.1,412.6 1691.6,413.1 1692.1,414.1 1692.6,413.6 1693.2,414.0 1693.7,414.2 1694.2,413.5 1694.7,412.7 1695.2,413.0 1695.7,413.6 1696.2,413.7 1696.8,413.5 1697.3,413.2 1697.8,414.2 1698.3,414.3 1698.8,412.9 1699.3,413.5 1699.9,413.0 1700.4,413.5 1700.9,413.1 1701.4,413.9 1701.9,413.4 1702.4,413.0 1703.0,413.2 1703.5,413.8 1704.0,413.3 1704.5,413.9 1705.0,414.2 1705.5,413.5 1706.1,413.1 1706.6,413.3 1707.1,414.1 1707.6,413.3 1708.1,413.4 1708.6,413.8 1709.1,414.6 1709.7,413.3 1710.2,413.3 1710.7,413.5 1711.2,414.3 1711.7,414.2 1712.2,413.3 1712.8,413.4 1713.3,413.5 1713.8,413.8 1714.3,413.5 1714.8,413.9 1715.3,413.8 1715.9,414.0 1716.4,413.6 1716.9,413.9 1717.4,413.4 1717.9,413.4 1718.4,414.0 1719.0,413.0 1719.5,414.1 1720.0,413.6 1720.5,413.3 1721.0,413.2 1721.5,414.6 1722.1,413.4 1722.6,413.3 1723.1,413.2 1723.6,414.6" fill="none" stroke="#0a0acd" stroke-width="3.2" stroke-linejoin="round"/>
<polyline points="1207.5,416.0 1209.0,415.9 1210.6,415.9 1212.1,415.4 1213.7,415.8 1215.2,415.4 1216.8,415.6 1218.3,416.2 1219.9,416.2 1221.4,415.9 1223.0,415.6 1224.5,415.4 1226.1,415.6 1227.6,415.5 1229.2,416.3 1230.7,416.8 1232.3,415.9 1233.8,415.5 1235.4,415.7 1236.9,415.9 1238.5,415.3 1240.0,414.8 1241.6,415.4 1243.1,415.7 1244.7,415.6 1246.2,414.8 1247.8,415.2 1249.3,415.0 1250.9,414.7 1252.4,414.8 1253.9,415.4 1255.5,414.8 1257.0,414.7 1258.6,414.7 1260.1,414.6 1261.7,415.1 1263.2,415.0 1264.8,414.9 1266.3,414.5 1267.9,414.8 1269.4,414.6 1271.0,414.9 1272.5,414.6 1274.1,414.5 1275.6,414.3 1277.2,414.1 1278.7,414.1 1280.3,414.2 1281.8,414.6 1283.4,413.5 1284.9,413.7 1286.5,413.7 1288.0,413.6 1289.6,412.8 1291.1,413.2 1292.7,412.5 1294.2,411.8 1295.8,411.4 1297.3,411.4 1298.8,411.7 1300.4,412.2 1301.9,410.9 1303.5,410.5 1305.0,410.4 1306.6,410.3 1308.1,410.4 1309.7,410.4 1311.2,409.2 1312.8,408.9 1314.3,409.6 1315.9,408.5 1317.4,408.3 1319.0,407.7 1320.5,407.5 1322.1,406.6 1323.6,406.2 1325.2,406.2 1326.7,407.0 1328.3,405.5 1329.8,405.4 1331.4,405.6 1332.9,404.4 1334.5,404.7 1336.0,402.8 1337.6,401.6 1339.1,402.4 1340.7,401.2 1342.2,400.8 1343.8,400.5 1345.3,401.2 1346.8,399.4 1348.4,398.8 1349.9,397.9 1351.5,397.6 1353.0,396.3 1354.6,396.1 1356.1,395.2 1357.7,394.0 1359.2,394.2 1360.8,393.2 1362.3,393.0 1363.9,392.5 1365.4,392.5 1367.0,390.7 1368.5,389.6 1370.1,390.0 1371.6,388.8 1373.2,388.7 1374.7,389.4 1376.3,387.4 1377.8,385.8 1379.4,387.1 1380.9,387.9 1382.5,385.6 1384.0,384.9 1385.6,382.1 1387.1,383.0 1388.7,383.0 1390.2,382.9 1391.7,381.7 1393.3,381.9 1394.8,381.7 1396.4,380.4 1397.9,379.9 1399.5,377.7 1401.0,379.2 1402.6,378.1 1404.1,378.2 1405.7,377.8 1407.2,374.7 1408.8,376.9 1410.3,373.7 1411.9,375.3 1413.4,372.9 1415.0,370.3 1416.5,374.4 1418.1,373.3 1419.6,369.2 1421.2,369.4 1422.7,369.7 1424.3,368.7 1425.8,368.6 1427.4,366.2 1428.9,363.6 1430.5,364.7 1432.0,363.2 1433.6,360.3 1435.1,358.6 1436.6,360.6 1438.2,359.2 1439.7,359.0 1441.3,358.1 1442.8,356.6 1444.4,355.9 1445.9,356.4 1447.5,355.5 1449.0,352.0 1450.6,348.5 1452.1,345.7 1453.7,346.6 1455.2,345.0 1456.8,342.3 1458.3,340.9 1459.9,341.1 1461.4,339.6 1463.0,336.3 1464.5,338.6 1466.1,339.4 1467.6,340.3 1469.2,337.2 1470.7,336.8 1472.3,334.4 1473.8,337.9 1475.4,337.8 1476.9,338.2 1478.5,339.4 1480.0,344.6 1481.5,343.3 1483.1,346.7 1484.6,349.4 1486.2,351.9 1487.7,354.2 1489.3,357.0 1490.8,361.2 1492.4,360.0 1493.9,362.4 1495.5,365.9 1497.0,366.5 1498.6,365.9 1500.1,370.1 1501.7,373.1 1503.2,373.4 1504.8,377.8 1506.3,379.6 1507.9,381.7 1509.4,382.9 1511.0,383.5 1512.5,385.4 1514.1,388.3 1515.6,389.4 1517.2,390.5 1518.7,392.3 1520.3,393.4 1521.8,395.2 1523.4,396.3 1524.9,396.9 1526.4,398.4 1528.0,398.5 1529.5,399.8 1531.1,401.3 1532.6,401.9 1534.2,402.5 1535.7,402.9 1537.3,403.4 1538.8,404.3 1540.4,405.1 1541.9,404.2 1543.5,404.9 1545.0,405.9 1546.6,406.0 1548.1,406.8 1549.7,407.6 1551.2,407.5 1552.8,406.5 1554.3,407.6 1555.9,408.2 1557.4,409.2 1559.0,408.9 1560.5,408.4 1562.1,409.4 1563.6,409.5 1565.2,409.6 1566.7,410.0 1568.3,410.0 1569.8,410.7 1571.4,411.1 1572.9,411.4 1574.4,410.3 1576.0,411.3 1577.5,411.7 1579.1,411.4 1580.6,412.3 1582.2,412.4 1583.7,412.8 1585.3,412.6 1586.8,412.8 1588.4,412.5 1589.9,412.9 1591.5,413.2 1593.0,413.2 1594.6,413.2 1596.1,413.3 1597.7,412.9 1599.2,413.0 1600.8,413.4 1602.3,414.0 1603.9,413.6 1605.4,414.1 1607.0,413.7 1608.5,413.8 1610.1,414.1 1611.6,414.3 1613.2,414.1 1614.7,413.3 1616.3,414.0 1617.8,414.1 1619.3,413.8 1620.9,413.9 1622.4,413.9 1624.0,414.8 1625.5,414.6 1627.1,413.2 1628.6,414.2 1630.2,414.6 1631.7,414.4 1633.3,414.3 1634.8,414.9 1636.4,414.6 1637.9,414.6 1639.5,414.4 1641.0,414.6 1642.6,415.0 1644.1,415.3 1645.7,415.7 1647.2,414.8 1648.8,415.4 1650.3,415.0 1651.9,414.4 1653.4,414.9 1655.0,414.8 1656.5,415.0 1658.1,414.8 1659.6,415.0 1661.2,415.2 1662.7,414.7 1664.2,415.2 1665.8,415.7 1667.3,415.3 1668.9,415.1 1670.4,415.5 1672.0,415.0 1673.5,414.8 1675.1,414.5 1676.6,415.3 1678.2,415.3 1679.7,415.9 1681.3,415.6 1682.8,415.3 1684.4,415.2 1685.9,415.4 1687.5,415.5 1689.0,415.7 1690.6,415.6 1692.1,415.4 1693.7,415.2 1695.2,415.2 1696.8,415.1 1698.3,415.2 1699.9,416.1 1701.4,415.9 1703.0,415.7 1704.5,415.7 1706.1,415.2 1707.6,415.3 1709.1,415.6 1710.7,415.5 1712.2,415.2 1713.8,415.7 1715.3,415.7 1716.9,415.4 1718.4,415.4 1720.0,415.2 1721.5,415.4 1723.1,415.5" fill="none" stroke="#000000" stroke-width="3.2" stroke-linejoin="round"/>
<polyline points="1207.5,414.9 1209.0,415.0 1210.6,414.9 1212.1,415.3 1213.7,414.6 1215.2,414.4 1216.8,414.5 1218.3,414.6 1219.9,414.3 1221.4,414.4 1223.0,414.1 1224.5,413.8 1226.1,414.1 1227.6,414.1 1229.2,414.2 1230.7,414.2 1232.3,414.2 1233.8,414.2 1235.4,414.0 1236.9,414.6 1238.5,414.3 1240.0,414.0 1241.6,414.3 1243.1,414.1 1244.7,414.2 1246.2,413.8 1247.8,413.5 1249.3,413.3 1250.9,413.6 1252.4,413.9 1253.9,413.6 1255.5,413.3 1257.0,413.2 1258.6,414.0 1260.1,413.6 1261.7,413.8 1263.2,413.1 1264.8,413.0 1266.3,412.9 1267.9,412.7 1269.4,412.8 1271.0,413.0 1272.5,412.6 1274.1,412.3 1275.6,412.5 1277.2,412.5 1278.7,412.6 1280.3,411.9 1281.8,412.2 1283.4,412.3 1284.9,412.1 1286.5,412.0 1288.0,411.6 1289.6,410.9 1291.1,410.7 1292.7,410.3 1294.2,410.3 1295.8,410.8 1297.3,410.2 1298.8,409.5 1300.4,409.1 1301.9,410.3 1303.5,410.2 1305.0,409.3 1306.6,409.3 1308.1,409.2 1309.7,408.5 1311.2,408.8 1312.8,409.0 1314.3,407.9 1315.9,407.3 1317.4,406.7 1319.0,406.2 1320.5,406.3 1322.1,406.2 1323.6,406.2 1325.2,406.2 1326.7,405.3 1328.3,404.1 1329.8,403.6 1331.4,402.8 1332.9,403.5 1334.5,403.9 1336.0,402.3 1337.6,401.7 1339.1,402.5 1340.7,402.4 1342.2,401.0 1343.8,400.3 1345.3,400.7 1346.8,400.1 1348.4,399.9 1349.9,399.8 1351.5,399.3 1353.0,398.1 1354.6,397.8 1356.1,397.9 1357.7,398.1 1359.2,395.7 1360.8,396.2 1362.3,395.8 1363.9,395.7 1365.4,394.7 1367.0,395.1 1368.5,394.0 1370.1,393.4 1371.6,392.6 1373.2,393.3 1374.7,392.9 1376.3,391.8 1377.8,390.3 1379.4,391.8 1380.9,390.9 1382.5,390.8 1384.0,389.8 1385.6,389.2 1387.1,389.1 1388.7,388.8 1390.2,388.5 1391.7,388.8 1393.3,388.5 1394.8,389.0 1396.4,388.0 1397.9,387.7 1399.5,386.9 1401.0,385.9 1402.6,385.6 1404.1,385.2 1405.7,385.0 1407.2,386.7 1408.8,385.0 1410.3,384.6 1411.9,384.6 1413.4,384.9 1415.0,383.3 1416.5,382.3 1418.1,382.2 1419.6,382.6 1421.2,381.9 1422.7,381.1 1424.3,380.2 1425.8,380.4 1427.4,381.1 1428.9,381.1 1430.5,380.7 1432.0,380.6 1433.6,380.7 1435.1,379.8 1436.6,380.5 1438.2,380.5 1439.7,379.5 1441.3,379.8 1442.8,379.8 1444.4,380.6 1445.9,378.6 1447.5,378.6 1449.0,378.6 1450.6,378.0 1452.1,378.2 1453.7,378.4 1455.2,376.7 1456.8,377.8 1458.3,376.8 1459.9,376.2 1461.4,377.8 1463.0,377.9 1464.5,378.4 1466.1,377.6 1467.6,378.9 1469.2,379.7 1470.7,378.4 1472.3,379.1 1473.8,380.8 1475.4,380.2 1476.9,380.9 1478.5,379.9 1480.0,381.4 1481.5,384.0 1483.1,385.0 1484.6,386.0 1486.2,386.2 1487.7,386.8 1489.3,387.3 1490.8,388.7 1492.4,390.6 1493.9,390.9 1495.5,390.2 1497.0,391.1 1498.6,392.9 1500.1,393.9 1501.7,394.7 1503.2,395.6 1504.8,397.1 1506.3,396.7 1507.9,398.0 1509.4,398.8 1511.0,400.6 1512.5,400.0 1514.1,400.1 1515.6,402.2 1517.2,401.4 1518.7,402.3 1520.3,403.7 1521.8,404.5 1523.4,403.9 1524.9,404.6 1526.4,405.1 1528.0,406.1 1529.5,406.7 1531.1,406.7 1532.6,407.6 1534.2,407.6 1535.7,408.8 1537.3,409.2 1538.8,409.4 1540.4,409.0 1541.9,410.2 1543.5,410.4 1545.0,410.0 1546.6,410.1 1548.1,409.8 1549.7,410.1 1551.2,410.8 1552.8,411.3 1554.3,412.3 1555.9,412.3 1557.4,412.2 1559.0,412.4 1560.5,412.9 1562.1,413.0 1563.6,413.0 1565.2,412.5 1566.7,412.8 1568.3,413.2 1569.8,413.3 1571.4,413.3 1572.9,413.7 1574.4,413.8 1576.0,414.1 1577.5,413.6 1579.1,413.5 1580.6,413.7 1582.2,413.8 1583.7,413.8 1585.3,413.5 1586.8,414.1 1588.4,414.7 1589.9,414.6 1591.5,414.2 1593.0,414.1 1594.6,414.2 1596.1,414.3 1597.7,414.6 1599.2,415.1 1600.8,415.1 1602.3,415.3 1603.9,415.1 1605.4,415.2 1607.0,414.9 1608.5,415.0 1610.1,415.4 1611.6,414.9 1613.2,414.9 1614.7,415.3 1616.3,415.1 1617.8,414.9 1619.3,415.1 1620.9,415.0 1622.4,415.0 1624.0,414.9 1625.5,415.2 1627.1,415.3 1628.6,415.1 1630.2,415.1 1631.7,415.3 1633.3,415.5 1634.8,415.6 1636.4,415.6 1637.9,415.6 1639.5,415.4 1641.0,415.4 1642.6,415.5 1644.1,415.5 1645.7,415.4 1647.2,415.1 1648.8,415.3 1650.3,415.6 1651.9,415.6 1653.4,415.7 1655.0,415.7 1656.5,415.8 1658.1,415.9 1659.6,416.2 1661.2,416.3 1662.7,415.7 1664.2,415.5 1665.8,415.9 1667.3,415.7 1668.9,415.8 1670.4,415.8 1672.0,416.0 1673.5,415.9 1675.1,416.0 1676.6,416.4 1678.2,415.9 1679.7,416.0 1681.3,416.4 1682.8,415.9 1684.4,415.9 1685.9,415.9 1687.5,415.9 1689.0,416.1 1690.6,416.2 1692.1,416.1 1693.7,416.0 1695.2,415.4 1696.8,415.5 1698.3,416.0 1699.9,416.1 1701.4,415.9 1703.0,415.9 1704.5,416.2 1706.1,416.2 1707.6,415.6 1709.1,415.8 1710.7,416.4 1712.2,416.6 1713.8,416.3 1715.3,416.1 1716.9,416.0 1718.4,416.2 1720.0,416.5 1721.5,416.1 1723.1,416.0" fill="none" stroke="#e87c1e" stroke-width="3.2" stroke-linejoin="round"/>
</g>
<text x="1272.0" y="450.3" font-size="29" text-anchor="middle" fill="#111" stroke="#111">25</text>
<text x="1401.0" y="450.3" font-size="29" text-anchor="middle" fill="#111" stroke="#111">26</text>
<text x="1530.1" y="450.3" font-size="29" text-anchor="middle" fill="#111" stroke="#111">27</text>
<text x="1659.1" y="450.3" font-size="29" text-anchor="middle" fill="#111" stroke="#111">28</text>
<text x="1392.8" y="499.4" font-size="39.5" textLength="147.2" lengthAdjust="spacing" fill="#111" stroke="#111">2<tspan font-family="Liberation Serif, serif">&#952;</tspan> (deg)</text>
<text transform="translate(1186.0,393) rotate(-90)" x="0" y="0" font-size="39.3" fill="#111" stroke="#111">Instensity (arb. units)</text>
<line x1="1211.8" y1="23.5" x2="1279.5" y2="23.5" stroke="#22e622" stroke-width="3"/>
<text x="1285.5" y="33.9" font-size="29.5" fill="#111" stroke="#111">S<tspan font-size="21" dy="8">60</tspan><tspan dy="-8"> 2.0&#176;</tspan></text>
<line x1="1211.8" y1="66.4" x2="1279.5" y2="66.4" stroke="#e0141e" stroke-width="3"/>
<text x="1285.5" y="76.8" font-size="29.5" fill="#111" stroke="#111">S<tspan font-size="21" dy="8">60</tspan><tspan dy="-8"> 1.0&#176;</tspan></text>
<line x1="1211.8" y1="109.3" x2="1279.5" y2="109.3" stroke="#0a0acd" stroke-width="3"/>
<text x="1285.5" y="119.7" font-size="29.5" fill="#111" stroke="#111">S<tspan font-size="21" dy="8">60</tspan><tspan dy="-8"> 0.6&#176;</tspan></text>
<line x1="1211.8" y1="152.2" x2="1279.5" y2="152.2" stroke="#000000" stroke-width="3"/>
<text x="1285.5" y="162.6" font-size="29.5" fill="#111" stroke="#111">S<tspan font-size="21" dy="8">60</tspan><tspan dy="-8"> 0.3&#176;</tspan></text>
<line x1="1211.8" y1="195.1" x2="1279.5" y2="195.1" stroke="#e87c1e" stroke-width="3"/>
<text x="1285.5" y="205.5" font-size="29.5" fill="#111" stroke="#111">S<tspan font-size="21" dy="8">60</tspan><tspan dy="-8"> 0.0&#176;</tspan></text>
<text x="403.6" y="39.4" font-size="28.5" fill="#e8141e" stroke="#e8141e">1.0&#176;</text>
<path d="M402.7,31.5H353.9" stroke="#e8141e" stroke-width="2.5" fill="none"/>
<path d="M338.9,31.5L353.9,27.5L352.4,31.5L353.9,35.5Z" fill="#e8141e"/>
<text x="229.2" y="89.4" font-size="28.5" fill="#1414dc" stroke="#1414dc">0.6&#176;</text>
<path d="M274.9,82.2H294.2" stroke="#1414dc" stroke-width="2.5" fill="none"/>
<path d="M309.2,82.2L294.2,78.2L295.7,82.2L294.2,86.2Z" fill="#1414dc"/>
<text x="422.3" y="168.5" font-size="28.5" fill="#28e628" stroke="#28e628">2.0&#176;</text>
<path d="M419.4,160.0H375.0" stroke="#28e628" stroke-width="2.5" fill="none"/>
<path d="M360.0,160.0L375.0,156.0L373.5,160.0L375.0,164.0Z" fill="#28e628"/>
<text x="221.2" y="179.7" font-size="28.5" fill="#111111" stroke="#111111">0.3&#176;</text>
<path d="M265.9,173.2H280.3" stroke="#111111" stroke-width="2.5" fill="none"/>
<path d="M295.3,173.2L280.3,169.2L281.8,173.2L280.3,177.2Z" fill="#111111"/>
<text x="161.3" y="271.2" font-size="28.5" fill="#f08c2a" stroke="#f08c2a">0.0&#176;</text>
<path d="M210.0,265.4H257.4" stroke="#f08c2a" stroke-width="2.5" fill="none"/>
<path d="M272.4,265.4L257.4,261.4L258.9,265.4L257.4,269.4Z" fill="#f08c2a"/>
<text x="984.6" y="53.7" font-size="28.5" fill="#e8141e" stroke="#e8141e">1.0&#176;</text>
<path d="M981.4,45.9H935.6" stroke="#e8141e" stroke-width="2.5" fill="none"/>
<path d="M920.6,45.9L935.6,41.9L934.1,45.9L935.6,49.9Z" fill="#e8141e"/>
<text x="997.1" y="158.8" font-size="28.5" fill="#28e628" stroke="#28e628">2.0&#176;</text>
<path d="M995.1,147.5H949.3" stroke="#28e628" stroke-width="2.5" fill="none"/>
<path d="M934.3,147.5L949.3,143.5L947.8,147.5L949.3,151.5Z" fill="#28e628"/>
<text x="999.4" y="211.2" font-size="28.5" fill="#1414dc" stroke="#1414dc">0.6&#176;</text>
<path d="M992.2,203.0H947.4" stroke="#1414dc" stroke-width="2.5" fill="none"/>
<path d="M932.4,203.0L947.4,199.0L945.9,203.0L947.4,207.0Z" fill="#1414dc"/>
<text x="755.7" y="255.3" font-size="28.5" fill="#111111" stroke="#111111">0.3&#176;</text>
<path d="M799.4,248.8H847.2" stroke="#111111" stroke-width="2.5" fill="none"/>
<path d="M862.2,248.8L847.2,244.8L848.7,248.8L847.2,252.8Z" fill="#111111"/>
<text x="734.1" y="312.2" font-size="28.5" fill="#f08c2a" stroke="#f08c2a">0.0&#176;</text>
<path d="M779.8,304.7H826.6" stroke="#f08c2a" stroke-width="2.5" fill="none"/>
<path d="M841.6,304.7L826.6,300.7L828.1,304.7L826.6,308.7Z" fill="#f08c2a"/>
<text x="1563.6" y="30.8" font-size="28.5" fill="#e8141e" stroke="#e8141e">1.0&#176;</text>
<path d="M1560.4,20.6H1512.6" stroke="#e8141e" stroke-width="2.5" fill="none"/>
<path d="M1497.6,20.6L1512.6,16.6L1511.1,20.6L1512.6,24.6Z" fill="#e8141e"/>
<text x="1574.8" y="144.1" font-size="28.5" fill="#28e628" stroke="#28e628">2.0&#176;</text>
<path d="M1573.7,133.7H1527.5" stroke="#28e628" stroke-width="2.5" fill="none"/>
<path d="M1512.5,133.7L1527.5,129.7L1526.0,133.7L1527.5,137.7Z" fill="#28e628"/>
<text x="1383.9" y="179.4" font-size="28.5" fill="#1414dc" stroke="#1414dc">0.6&#176;</text>
<path d="M1426.7,172.2H1439.1" stroke="#1414dc" stroke-width="2.5" fill="none"/>
<path d="M1454.1,172.2L1439.1,168.2L1440.6,172.2L1439.1,176.2Z" fill="#1414dc"/>
<text x="1315.5" y="341.6" font-size="28.5" fill="#111111" stroke="#111111">0.3&#176;</text>
<path d="M1356.7,335.7H1403.4" stroke="#111111" stroke-width="2.5" fill="none"/>
<path d="M1418.4,335.7L1403.4,331.7L1404.9,335.7L1403.4,339.7Z" fill="#111111"/>
<text x="1254.1" y="386.3" font-size="28.5" fill="#f08c2a" stroke="#f08c2a">0.0&#176;</text>
<path d="M1296.9,380.4H1342.6" stroke="#f08c2a" stroke-width="2.5" fill="none"/>
<path d="M1357.6,380.4L1342.6,376.4L1344.1,380.4L1342.6,384.4Z" fill="#f08c2a"/>
<text transform="translate(448.2,365) scale(0.94,1)" font-size="55" fill="#111" stroke="#111">S</text>
<text transform="translate(484.0,373) scale(0.94,1)" font-size="55" fill="#111" stroke="#111">5</text>
<text transform="translate(1023.9,359.5) scale(0.94,1)" font-size="55" fill="#111" stroke="#111">S</text>
<text transform="translate(1059.5,366.5) scale(0.94,1)" font-size="55" fill="#111" stroke="#111">30</text>
<text transform="translate(1603.1,367.3) scale(0.94,1)" font-size="55" fill="#111" stroke="#111">S</text>
<text transform="translate(1637.3,374.4) scale(0.94,1)" font-size="55" fill="#111" stroke="#111">60</text>
</svg></body></html>
